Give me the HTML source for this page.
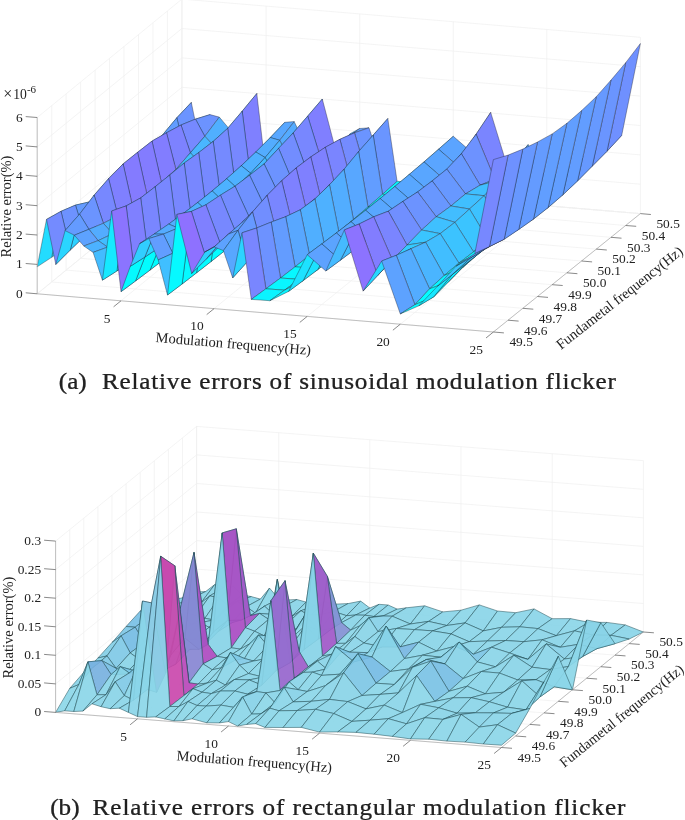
<!DOCTYPE html>
<html><head><meta charset="utf-8"><title>Relative errors</title>
<style>
html,body{margin:0;padding:0;background:#fff;}
svg{display:block}
text{font-family:"Liberation Serif",serif;fill:#222}
</style></head><body>
<svg width="685" height="820" viewBox="0 0 685 820">
<rect width="685" height="820" fill="#fff"/>
<line x1="121" y1="300.8" x2="266.1" y2="182.4" stroke="#efefef" stroke-width="0.7"/>
<line x1="266.1" y1="182.4" x2="266.1" y2="6.1" stroke="#efefef" stroke-width="0.7"/>
<line x1="214.1" y1="308.6" x2="359.7" y2="190.2" stroke="#efefef" stroke-width="0.7"/>
<line x1="359.7" y1="190.2" x2="359.7" y2="13.9" stroke="#efefef" stroke-width="0.7"/>
<line x1="307.2" y1="316.4" x2="453.3" y2="198" stroke="#efefef" stroke-width="0.7"/>
<line x1="453.3" y1="198" x2="453.3" y2="21.7" stroke="#efefef" stroke-width="0.7"/>
<line x1="400.3" y1="324.2" x2="546.8" y2="205.8" stroke="#efefef" stroke-width="0.7"/>
<line x1="546.8" y1="205.8" x2="546.8" y2="29.5" stroke="#efefef" stroke-width="0.7"/>
<line x1="493.4" y1="332" x2="640.4" y2="213.6" stroke="#efefef" stroke-width="0.7"/>
<line x1="640.4" y1="213.6" x2="640.4" y2="37.3" stroke="#efefef" stroke-width="0.7"/>
<line x1="37.2" y1="293.8" x2="493.4" y2="332" stroke="#efefef" stroke-width="0.7"/>
<line x1="37.2" y1="293.8" x2="37.2" y2="117.5" stroke="#efefef" stroke-width="0.7"/>
<line x1="51.7" y1="282" x2="508.1" y2="320.2" stroke="#efefef" stroke-width="0.7"/>
<line x1="51.7" y1="282" x2="51.7" y2="105.7" stroke="#efefef" stroke-width="0.7"/>
<line x1="66.1" y1="270.1" x2="522.8" y2="308.3" stroke="#efefef" stroke-width="0.7"/>
<line x1="66.1" y1="270.1" x2="66.1" y2="93.8" stroke="#efefef" stroke-width="0.7"/>
<line x1="80.6" y1="258.3" x2="537.5" y2="296.5" stroke="#efefef" stroke-width="0.7"/>
<line x1="80.6" y1="258.3" x2="80.6" y2="82" stroke="#efefef" stroke-width="0.7"/>
<line x1="95.1" y1="246.4" x2="552.2" y2="284.7" stroke="#efefef" stroke-width="0.7"/>
<line x1="95.1" y1="246.4" x2="95.1" y2="70.2" stroke="#efefef" stroke-width="0.7"/>
<line x1="109.5" y1="234.6" x2="566.9" y2="272.8" stroke="#efefef" stroke-width="0.7"/>
<line x1="109.5" y1="234.6" x2="109.5" y2="58.3" stroke="#efefef" stroke-width="0.7"/>
<line x1="124" y1="222.8" x2="581.6" y2="261" stroke="#efefef" stroke-width="0.7"/>
<line x1="124" y1="222.8" x2="124" y2="46.5" stroke="#efefef" stroke-width="0.7"/>
<line x1="138.5" y1="210.9" x2="596.3" y2="249.1" stroke="#efefef" stroke-width="0.7"/>
<line x1="138.5" y1="210.9" x2="138.5" y2="34.6" stroke="#efefef" stroke-width="0.7"/>
<line x1="153" y1="199.1" x2="611" y2="237.3" stroke="#efefef" stroke-width="0.7"/>
<line x1="153" y1="199.1" x2="153" y2="22.8" stroke="#efefef" stroke-width="0.7"/>
<line x1="167.4" y1="187.2" x2="625.7" y2="225.5" stroke="#efefef" stroke-width="0.7"/>
<line x1="167.4" y1="187.2" x2="167.4" y2="11" stroke="#efefef" stroke-width="0.7"/>
<line x1="181.9" y1="175.4" x2="640.4" y2="213.6" stroke="#efefef" stroke-width="0.7"/>
<line x1="181.9" y1="175.4" x2="181.9" y2="-0.9" stroke="#efefef" stroke-width="0.7"/>
<line x1="37.2" y1="293.8" x2="181.9" y2="175.4" stroke="#efefef" stroke-width="0.7"/>
<line x1="181.9" y1="175.4" x2="640.4" y2="213.6" stroke="#efefef" stroke-width="0.7"/>
<line x1="37.2" y1="264.4" x2="181.9" y2="146" stroke="#efefef" stroke-width="0.7"/>
<line x1="181.9" y1="146" x2="640.4" y2="184.2" stroke="#efefef" stroke-width="0.7"/>
<line x1="37.2" y1="235" x2="181.9" y2="116.6" stroke="#efefef" stroke-width="0.7"/>
<line x1="181.9" y1="116.6" x2="640.4" y2="154.9" stroke="#efefef" stroke-width="0.7"/>
<line x1="37.2" y1="205.7" x2="181.9" y2="87.3" stroke="#efefef" stroke-width="0.7"/>
<line x1="181.9" y1="87.3" x2="640.4" y2="125.5" stroke="#efefef" stroke-width="0.7"/>
<line x1="37.2" y1="176.3" x2="181.9" y2="57.9" stroke="#efefef" stroke-width="0.7"/>
<line x1="181.9" y1="57.9" x2="640.4" y2="96.1" stroke="#efefef" stroke-width="0.7"/>
<line x1="37.2" y1="146.9" x2="181.9" y2="28.5" stroke="#efefef" stroke-width="0.7"/>
<line x1="181.9" y1="28.5" x2="640.4" y2="66.7" stroke="#efefef" stroke-width="0.7"/>
<line x1="37.2" y1="117.5" x2="181.9" y2="-0.9" stroke="#efefef" stroke-width="0.7"/>
<line x1="181.9" y1="-0.9" x2="640.4" y2="37.3" stroke="#efefef" stroke-width="0.7"/>
<line x1="181.9" y1="175.4" x2="181.9" y2="-0.9" stroke="#efefef" stroke-width="0.7"/>
<line x1="181.9" y1="175.4" x2="640.4" y2="213.6" stroke="#efefef" stroke-width="0.7"/>
<line x1="181.9" y1="175.4" x2="37.2" y2="293.8" stroke="#efefef" stroke-width="0.7"/>
<g stroke="#20202a" stroke-width="0.38" stroke-linejoin="round"><polygon points="167.4,162.9 176.8,117.8 191.3,102.4 181.9,149" fill="#1fe0ff"/><polygon points="176.8,117.8 186.1,156.2 200.6,147.6 191.3,102.4" fill="#6b94ff"/><polygon points="186.1,156.2 195.5,119.1 210,114.6 200.6,147.6" fill="#2dd2ff"/><polygon points="195.5,119.1 204.8,136.3 219.3,117.1 210,114.6" fill="#6c93ff"/><polygon points="204.8,136.3 214.2,146.3 228.7,128.2 219.3,117.1" fill="#50afff"/><polygon points="214.2,146.3 223.5,152.7 238,134.5 228.7,128.2" fill="#41beff"/><polygon points="223.5,152.7 232.9,176.2 247.4,161.8 238,134.5" fill="#38c7ff"/><polygon points="232.9,176.2 242.2,111.2 256.8,93.5 247.4,161.8" fill="#12edff"/><polygon points="242.2,111.2 251.6,186.5 266.1,173.6 256.8,93.5" fill="#7f80ff"/><polygon points="251.6,186.5 261,162.4 275.5,147.9 266.1,173.6" fill="#03fcff"/><polygon points="261,162.4 270.3,137.5 284.8,122.3 275.5,147.9" fill="#2dd2ff"/><polygon points="270.3,137.5 279.7,140.3 294.2,121.6 284.8,122.3" fill="#58a7ff"/><polygon points="279.7,140.3 289,158.6 303.5,141.5 294.2,121.6" fill="#54abff"/><polygon points="289,158.6 298.4,189.3 312.9,176.6 303.5,141.5" fill="#37c8ff"/><polygon points="298.4,189.3 307.7,116.1 322.3,99 312.9,176.6" fill="#05faff"/><polygon points="307.7,116.1 322.7,164.7 337.2,156 322.3,99" fill="#807fff"/><polygon points="322.7,164.7 335.8,149.2 350.3,133.6 337.2,156" fill="#31ceff"/><polygon points="335.8,149.2 345.1,139.3 359.7,128.5 350.3,133.6" fill="#4db2ff"/><polygon points="345.1,139.3 354.5,132.8 369,127.8 359.7,128.5" fill="#5fa0ff"/><polygon points="354.5,132.8 363.8,165.2 378.4,156.5 369,127.8" fill="#6b94ff"/><polygon points="363.8,165.2 373.2,135.1 387.8,118.5 378.4,156.5" fill="#36c9ff"/><polygon points="373.2,135.1 382.5,194.3 397.1,181.3 387.8,118.5" fill="#6a95ff"/><polygon points="382.5,194.3 401.2,195.7 415.8,182.6 397.1,181.3" fill="#08f7ff"/><polygon points="401.2,195.7 419.9,185.9 434.5,173 415.8,182.6" fill="#09f6ff"/><polygon points="419.9,185.9 438.6,149.2 453.3,136.3 434.5,173" fill="#1ce3ff"/><polygon points="438.6,149.2 457.3,165.5 472,152.6 453.3,136.3" fill="#5ba4ff"/><polygon points="457.3,165.5 476.1,134.2 490.7,112.4 472,152.6" fill="#43bcff"/><polygon points="476.1,134.2 494.8,179.3 509.4,173.3 490.7,112.4" fill="#7a85ff"/><polygon points="494.8,179.3 513.5,163.2 528.1,144.6 509.4,173.3" fill="#31ceff"/><polygon points="513.5,163.2 532.2,195.6 546.8,179.4 528.1,144.6" fill="#4eb1ff"/><polygon points="532.2,195.6 550.9,184 565.5,169.2 546.8,179.4" fill="#1be4ff"/><polygon points="550.9,184 569.6,173.3 584.2,157.5 565.5,169.2" fill="#31ceff"/><polygon points="569.6,173.3 588.3,161.7 603,145.9 584.2,157.5" fill="#45baff"/><polygon points="588.3,161.7 607,151.3 621.7,135.4 603,145.9" fill="#5ba4ff"/><polygon points="607,151.3 625.7,62.7 640.4,43.5 621.7,135.4" fill="#6f90ff"/><polygon points="153,176.4 162.3,135.2 176.8,117.8 167.4,162.9" fill="#1ce3ff"/><polygon points="162.3,135.2 171.7,165.6 186.1,156.2 176.8,117.8" fill="#629dff"/><polygon points="171.7,165.6 181,125 195.5,119.1 186.1,156.2" fill="#31ceff"/><polygon points="181,125 190.4,152.8 204.8,136.3 195.5,119.1" fill="#7689ff"/><polygon points="190.4,152.8 199.7,163 214.2,146.3 204.8,136.3" fill="#49b6ff"/><polygon points="199.7,163 209,169.5 223.5,152.7 214.2,146.3" fill="#39c6ff"/><polygon points="209,169.5 218.4,190.1 232.9,176.2 223.5,152.7" fill="#2fd0ff"/><polygon points="218.4,190.1 227.7,128.3 242.2,111.2 232.9,176.2" fill="#0ef1ff"/><polygon points="227.7,128.3 237.1,199.2 251.6,186.5 242.2,111.2" fill="#7788ff"/><polygon points="237.1,199.2 246.4,176.3 261,162.4 251.6,186.5" fill="#02fdff"/><polygon points="246.4,176.3 255.8,152 270.3,137.5 261,162.4" fill="#29d6ff"/><polygon points="255.8,152 265.1,157.5 279.7,140.3 270.3,137.5" fill="#53acff"/><polygon points="265.1,157.5 274.5,174.6 289,158.6 279.7,140.3" fill="#4bb4ff"/><polygon points="274.5,174.6 283.8,201.8 298.4,189.3 289,158.6" fill="#30cfff"/><polygon points="283.8,201.8 293.2,132.9 307.7,116.1 298.4,189.3" fill="#04fbff"/><polygon points="293.2,132.9 308.1,174.1 322.7,164.7 307.7,116.1" fill="#7887ff"/><polygon points="308.1,174.1 321.2,163.9 335.8,149.2 322.7,164.7" fill="#36c9ff"/><polygon points="321.2,163.9 330.6,150.3 345.1,139.3 335.8,149.2" fill="#48b7ff"/><polygon points="330.6,150.3 339.9,139.3 354.5,132.8 345.1,139.3" fill="#609fff"/><polygon points="339.9,139.3 349.3,174.6 363.8,165.2 354.5,132.8" fill="#748bff"/><polygon points="349.3,174.6 358.6,151.6 373.2,135.1 363.8,165.2" fill="#3ac5ff"/><polygon points="358.6,151.6 368,207 382.5,194.3 373.2,135.1" fill="#629dff"/><polygon points="368,207 386.6,208.5 401.2,195.7 382.5,194.3" fill="#07f8ff"/><polygon points="386.6,208.5 405.3,198.5 419.9,185.9 401.2,195.7" fill="#07f8ff"/><polygon points="405.3,198.5 424,161.9 438.6,149.2 419.9,185.9" fill="#1ae5ff"/><polygon points="424,161.9 442.7,178.1 457.3,165.5 438.6,149.2" fill="#5aa5ff"/><polygon points="442.7,178.1 461.4,153.7 476.1,134.2 457.3,165.5" fill="#42bdff"/><polygon points="461.4,153.7 480.1,185.2 494.8,179.3 476.1,134.2" fill="#6d92ff"/><polygon points="480.1,185.2 498.8,180.3 513.5,163.2 494.8,179.3" fill="#3bc4ff"/><polygon points="498.8,180.3 517.5,211.9 532.2,195.6 513.5,163.2" fill="#46b9ff"/><polygon points="517.5,211.9 536.2,199.3 550.9,184 532.2,195.6" fill="#14ebff"/><polygon points="536.2,199.3 554.9,188.2 569.6,173.3 550.9,184" fill="#2bd4ff"/><polygon points="554.9,188.2 573.6,176.7 588.3,161.7 569.6,173.3" fill="#40bfff"/><polygon points="573.6,176.7 592.3,166.1 607,151.3 588.3,161.7" fill="#56a9ff"/><polygon points="592.3,166.1 611,80.1 625.7,62.7 607,151.3" fill="#6a95ff"/><polygon points="138.5,189.4 147.8,154.4 162.3,135.2 153,176.4" fill="#1ae5ff"/><polygon points="147.8,154.4 157.2,175.7 171.7,165.6 162.3,135.2" fill="#56a9ff"/><polygon points="157.2,175.7 166.5,132.8 181,125 171.7,165.6" fill="#34cbff"/><polygon points="166.5,132.8 175.9,169.4 190.4,152.8 181,125" fill="#7d82ff"/><polygon points="175.9,169.4 185.2,178.3 199.7,163 190.4,152.8" fill="#41beff"/><polygon points="185.2,178.3 194.5,184.9 209,169.5 199.7,163" fill="#33ccff"/><polygon points="194.5,184.9 203.9,203.5 218.4,190.1 209,169.5" fill="#29d6ff"/><polygon points="203.9,203.5 213.2,141.4 227.7,128.3 218.4,190.1" fill="#0cf3ff"/><polygon points="213.2,141.4 222.6,211.6 237.1,199.2 227.7,128.3" fill="#758aff"/><polygon points="222.6,211.6 231.9,189.6 246.4,176.3 237.1,199.2" fill="#01feff"/><polygon points="231.9,189.6 241.3,165.7 255.8,152 246.4,176.3" fill="#27d8ff"/><polygon points="241.3,165.7 250.6,173.2 265.1,157.5 255.8,152" fill="#50afff"/><polygon points="250.6,173.2 259.9,189.3 274.5,174.6 265.1,157.5" fill="#45baff"/><polygon points="259.9,189.3 269.3,214.1 283.8,201.8 274.5,174.6" fill="#2bd4ff"/><polygon points="269.3,214.1 278.6,148.3 293.2,132.9 283.8,201.8" fill="#03fcff"/><polygon points="278.6,148.3 293.6,184.1 308.1,174.1 293.2,132.9" fill="#728dff"/><polygon points="293.6,184.1 306.7,177.8 321.2,163.9 308.1,174.1" fill="#38c7ff"/><polygon points="306.7,177.8 316,161.6 330.6,150.3 321.2,163.9" fill="#45baff"/><polygon points="316,161.6 325.3,147.3 339.9,139.3 330.6,150.3" fill="#619eff"/><polygon points="325.3,147.3 334.7,184.6 349.3,174.6 339.9,139.3" fill="#7a85ff"/><polygon points="334.7,184.6 344,169.3 358.6,151.6 349.3,174.6" fill="#3dc2ff"/><polygon points="344,169.3 353.4,219.5 368,207 358.6,151.6" fill="#58a7ff"/><polygon points="353.4,219.5 372.1,221 386.6,208.5 368,207" fill="#06f9ff"/><polygon points="372.1,221 390.7,210.9 405.3,198.5 386.6,208.5" fill="#06f9ff"/><polygon points="390.7,210.9 409.4,174.3 424,161.9 405.3,198.5" fill="#19e6ff"/><polygon points="409.4,174.3 428.1,190.6 442.7,178.1 424,161.9" fill="#59a6ff"/><polygon points="428.1,190.6 446.8,169.1 461.4,153.7 442.7,178.1" fill="#41beff"/><polygon points="446.8,169.1 465.5,193.9 480.1,185.2 461.4,153.7" fill="#6798ff"/><polygon points="465.5,193.9 484.2,195.7 498.8,180.3 480.1,185.2" fill="#40bfff"/><polygon points="484.2,195.7 502.9,226.6 517.5,211.9 498.8,180.3" fill="#40bfff"/><polygon points="502.9,226.6 521.5,214.1 536.2,199.3 517.5,211.9" fill="#0ff0ff"/><polygon points="521.5,214.1 540.2,202.2 554.9,188.2 536.2,199.3" fill="#26d9ff"/><polygon points="540.2,202.2 558.9,190.8 573.6,176.7 554.9,188.2" fill="#3dc2ff"/><polygon points="558.9,190.8 577.6,180.9 592.3,166.1 573.6,176.7" fill="#52adff"/><polygon points="577.6,180.9 596.3,96.7 611,80.1 592.3,166.1" fill="#6699ff"/><polygon points="124,202 133.4,170.7 147.8,154.4 138.5,189.4" fill="#19e6ff"/><polygon points="133.4,170.7 142.7,186.5 157.2,175.7 147.8,154.4" fill="#4eb1ff"/><polygon points="142.7,186.5 152,141.1 166.5,132.8 157.2,175.7" fill="#35caff"/><polygon points="152,141.1 161.4,182.4 175.9,169.4 166.5,132.8" fill="#827dff"/><polygon points="161.4,182.4 170.7,192.2 185.2,178.3 175.9,169.4" fill="#3fc0ff"/><polygon points="170.7,192.2 180,198.8 194.5,184.9 185.2,178.3" fill="#30cfff"/><polygon points="180,198.8 189.4,216.2 203.9,203.5 194.5,184.9" fill="#26d9ff"/><polygon points="189.4,216.2 198.7,152.6 213.2,141.4 203.9,203.5" fill="#0af5ff"/><polygon points="198.7,152.6 208.1,223.8 222.6,211.6 213.2,141.4" fill="#7689ff"/><polygon points="208.1,223.8 217.4,202.4 231.9,189.6 222.6,211.6" fill="#00ffff"/><polygon points="217.4,202.4 226.7,178.7 241.3,165.7 231.9,189.6" fill="#25daff"/><polygon points="226.7,178.7 236.1,187.3 250.6,173.2 241.3,165.7" fill="#4eb1ff"/><polygon points="236.1,187.3 245.4,202.9 259.9,189.3 250.6,173.2" fill="#41beff"/><polygon points="245.4,202.9 254.8,226.2 269.3,214.1 259.9,189.3" fill="#28d7ff"/><polygon points="254.8,226.2 264.1,163.9 278.6,148.3 269.3,214.1" fill="#03fcff"/><polygon points="264.1,163.9 279,194.9 293.6,184.1 278.6,148.3" fill="#6c93ff"/><polygon points="279,194.9 292.1,190.8 306.7,177.8 293.6,184.1" fill="#3ac5ff"/><polygon points="292.1,190.8 301.4,173.1 316,161.6 306.7,177.8" fill="#43bcff"/><polygon points="301.4,173.1 310.8,156.9 325.3,147.3 316,161.6" fill="#629dff"/><polygon points="310.8,156.9 320.1,195.4 334.7,184.6 325.3,147.3" fill="#7e81ff"/><polygon points="320.1,195.4 329.5,184.7 344,169.3 334.7,184.6" fill="#3fc0ff"/><polygon points="329.5,184.7 338.8,231.8 353.4,219.5 344,169.3" fill="#52adff"/><polygon points="338.8,231.8 357.5,233.3 372.1,221 353.4,219.5" fill="#05faff"/><polygon points="357.5,233.3 376.2,223.1 390.7,210.9 372.1,221" fill="#05faff"/><polygon points="376.2,223.1 394.8,186.5 409.4,174.3 390.7,210.9" fill="#19e6ff"/><polygon points="394.8,186.5 413.5,202.8 428.1,190.6 409.4,174.3" fill="#58a7ff"/><polygon points="413.5,202.8 432.2,180.9 446.8,169.1 428.1,190.6" fill="#40bfff"/><polygon points="432.2,180.9 450.9,206 465.5,193.9 446.8,169.1" fill="#6798ff"/><polygon points="450.9,206 469.5,209 484.2,195.7 465.5,193.9" fill="#40bfff"/><polygon points="469.5,209 488.2,240 502.9,226.6 484.2,195.7" fill="#3dc2ff"/><polygon points="488.2,240 506.9,227.7 521.5,214.1 502.9,226.6" fill="#0cf3ff"/><polygon points="506.9,227.7 525.6,215.3 540.2,202.2 521.5,214.1" fill="#23dcff"/><polygon points="525.6,215.3 544.2,203.9 558.9,190.8 540.2,202.2" fill="#3bc4ff"/><polygon points="544.2,203.9 562.9,194.8 577.6,180.9 558.9,190.8" fill="#50afff"/><polygon points="562.9,194.8 581.6,110.6 596.3,96.7 577.6,180.9" fill="#629dff"/><polygon points="109.5,214 118.9,184 133.4,170.7 124,202" fill="#19e6ff"/><polygon points="118.9,184 128.2,198 142.7,186.5 133.4,170.7" fill="#4cb3ff"/><polygon points="128.2,198 137.6,152.3 152,141.1 142.7,186.5" fill="#36c9ff"/><polygon points="137.6,152.3 146.9,194.2 161.4,182.4 152,141.1" fill="#837cff"/><polygon points="146.9,194.2 156.2,204.7 170.7,192.2 161.4,182.4" fill="#3fc0ff"/><polygon points="156.2,204.7 165.6,211.4 180,198.8 170.7,192.2" fill="#2fd0ff"/><polygon points="165.6,211.4 174.9,228.3 189.4,216.2 180,198.8" fill="#25daff"/><polygon points="174.9,228.3 184.2,163 198.7,152.6 189.4,216.2" fill="#0af5ff"/><polygon points="184.2,163 193.6,235.7 208.1,223.8 198.7,152.6" fill="#7887ff"/><polygon points="193.6,235.7 202.9,214.5 217.4,202.4 208.1,223.8" fill="#00ffff"/><polygon points="202.9,214.5 212.2,190.9 226.7,178.7 217.4,202.4" fill="#25daff"/><polygon points="212.2,190.9 221.6,199.9 236.1,187.3 226.7,178.7" fill="#4db2ff"/><polygon points="221.6,199.9 230.9,215.4 245.4,202.9 236.1,187.3" fill="#40bfff"/><polygon points="230.9,215.4 240.2,238.2 254.8,226.2 245.4,202.9" fill="#27d8ff"/><polygon points="240.2,238.2 249.6,175.2 264.1,163.9 254.8,226.2" fill="#02fdff"/><polygon points="249.6,175.2 264.5,206.4 279,194.9 264.1,163.9" fill="#6d92ff"/><polygon points="264.5,206.4 277.6,203.1 292.1,190.8 279,194.9" fill="#3bc4ff"/><polygon points="277.6,203.1 286.9,184.8 301.4,173.1 292.1,190.8" fill="#42bdff"/><polygon points="286.9,184.8 296.2,167.9 310.8,156.9 301.4,173.1" fill="#629dff"/><polygon points="296.2,167.9 305.6,206.9 320.1,195.4 310.8,156.9" fill="#7f80ff"/><polygon points="305.6,206.9 314.9,198.9 329.5,184.7 320.1,195.4" fill="#40bfff"/><polygon points="314.9,198.9 324.2,243.7 338.8,231.8 329.5,184.7" fill="#4eb1ff"/><polygon points="324.2,243.7 342.9,245.3 357.5,233.3 338.8,231.8" fill="#05faff"/><polygon points="342.9,245.3 361.6,235.1 376.2,223.1 357.5,233.3" fill="#05faff"/><polygon points="361.6,235.1 380.2,198.5 394.8,186.5 376.2,223.1" fill="#19e6ff"/><polygon points="380.2,198.5 398.9,214.7 413.5,202.8 394.8,186.5" fill="#58a7ff"/><polygon points="398.9,214.7 417.6,191.9 432.2,180.9 413.5,202.8" fill="#40bfff"/><polygon points="417.6,191.9 436.2,216.7 450.9,206 432.2,180.9" fill="#6897ff"/><polygon points="436.2,216.7 454.9,222.3 469.5,209 450.9,206" fill="#42bdff"/><polygon points="454.9,222.3 473.6,251.8 488.2,240 469.5,209" fill="#3bc4ff"/><polygon points="473.6,251.8 492.2,240.1 506.9,227.7 488.2,240" fill="#0cf3ff"/><polygon points="492.2,240.1 510.9,227.6 525.6,215.3 506.9,227.7" fill="#22ddff"/><polygon points="510.9,227.6 529.6,216.2 544.2,203.9 525.6,215.3" fill="#3ac5ff"/><polygon points="529.6,216.2 548.2,207.5 562.9,194.8 544.2,203.9" fill="#4fb0ff"/><polygon points="548.2,207.5 566.9,123.3 581.6,110.6 562.9,194.8" fill="#619eff"/><polygon points="95.1,225.6 104.4,194.3 118.9,184 109.5,214" fill="#19e6ff"/><polygon points="104.4,194.3 113.7,210.1 128.2,198 118.9,184" fill="#4eb1ff"/><polygon points="113.7,210.1 123.1,163.9 137.6,152.3 128.2,198" fill="#35caff"/><polygon points="123.1,163.9 132.4,205.5 146.9,194.2 137.6,152.3" fill="#847bff"/><polygon points="132.4,205.5 141.7,215.8 156.2,204.7 146.9,194.2" fill="#40bfff"/><polygon points="141.7,215.8 151.1,222.5 165.6,211.4 156.2,204.7" fill="#30cfff"/><polygon points="151.1,222.5 160.4,239.9 174.9,228.3 165.6,211.4" fill="#26d9ff"/><polygon points="160.4,239.9 169.7,175.1 184.2,163 174.9,228.3" fill="#0af5ff"/><polygon points="169.7,175.1 179,247.5 193.6,235.7 184.2,163" fill="#7887ff"/><polygon points="179,247.5 188.4,226 202.9,214.5 193.6,235.7" fill="#00ffff"/><polygon points="188.4,226 197.7,202.5 212.2,190.9 202.9,214.5" fill="#25daff"/><polygon points="197.7,202.5 207,210.9 221.6,199.9 212.2,190.9" fill="#4eb1ff"/><polygon points="207,210.9 216.4,226.6 230.9,215.4 221.6,199.9" fill="#41beff"/><polygon points="216.4,226.6 225.7,249.9 240.2,238.2 230.9,215.4" fill="#28d7ff"/><polygon points="225.7,249.9 235,186.2 249.6,175.2 240.2,238.2" fill="#03fcff"/><polygon points="235,186.2 249.9,218.6 264.5,206.4 249.6,175.2" fill="#6e91ff"/><polygon points="249.9,218.6 263,214.5 277.6,203.1 264.5,206.4" fill="#3ac5ff"/><polygon points="263,214.5 272.3,196.7 286.9,184.8 277.6,203.1" fill="#43bcff"/><polygon points="272.3,196.7 281.7,180.7 296.2,167.9 286.9,184.8" fill="#629dff"/><polygon points="281.7,180.7 291,219.2 305.6,206.9 296.2,167.9" fill="#7e81ff"/><polygon points="291,219.2 300.3,209.8 314.9,198.9 305.6,206.9" fill="#3fc0ff"/><polygon points="300.3,209.8 309.6,255.4 324.2,243.7 314.9,198.9" fill="#50afff"/><polygon points="309.6,255.4 328.3,257 342.9,245.3 324.2,243.7" fill="#05faff"/><polygon points="328.3,257 347,246.8 361.6,235.1 342.9,245.3" fill="#05faff"/><polygon points="347,246.8 365.6,210.2 380.2,198.5 361.6,235.1" fill="#19e6ff"/><polygon points="365.6,210.2 384.3,226.4 398.9,214.7 380.2,198.5" fill="#58a7ff"/><polygon points="384.3,226.4 402.9,201.4 417.6,191.9 398.9,214.7" fill="#40bfff"/><polygon points="402.9,201.4 421.6,230 436.2,216.7 417.6,191.9" fill="#6c93ff"/><polygon points="421.6,230 440.2,233.6 454.9,222.3 436.2,216.7" fill="#3fc0ff"/><polygon points="440.2,233.6 458.9,263.1 473.6,251.8 454.9,222.3" fill="#3cc3ff"/><polygon points="458.9,263.1 477.6,253.2 492.2,240.1 473.6,251.8" fill="#0df2ff"/><polygon points="477.6,253.2 496.2,239.4 510.9,227.6 492.2,240.1" fill="#20dfff"/><polygon points="496.2,239.4 514.9,227.7 529.6,216.2 510.9,227.6" fill="#3ac5ff"/><polygon points="514.9,227.7 533.5,219.1 548.2,207.5 529.6,216.2" fill="#50afff"/><polygon points="533.5,219.1 552.2,133.9 566.9,123.3 548.2,207.5" fill="#619eff"/><polygon points="80.6,236.7 89.9,201.8 104.4,194.3 95.1,225.6" fill="#1ae5ff"/><polygon points="89.9,201.8 99.3,222.8 113.7,210.1 104.4,194.3" fill="#56a9ff"/><polygon points="99.3,222.8 108.6,178.6 123.1,163.9 113.7,210.1" fill="#34cbff"/><polygon points="108.6,178.6 117.9,215.9 132.4,205.5 123.1,163.9" fill="#7f80ff"/><polygon points="117.9,215.9 127.2,225.5 141.7,215.8 132.4,205.5" fill="#42bdff"/><polygon points="127.2,225.5 136.6,232.1 151.1,222.5 141.7,215.8" fill="#33ccff"/><polygon points="136.6,232.1 145.9,250.8 160.4,239.9 151.1,222.5" fill="#2ad5ff"/><polygon points="145.9,250.8 155.2,186.7 169.7,175.1 160.4,239.9" fill="#0cf3ff"/><polygon points="155.2,186.7 164.5,258.9 179,247.5 169.7,175.1" fill="#7887ff"/><polygon points="164.5,258.9 173.9,237 188.4,226 179,247.5" fill="#01feff"/><polygon points="173.9,237 183.2,213.5 197.7,202.5 188.4,226" fill="#27d8ff"/><polygon points="183.2,213.5 192.5,220.3 207,210.9 197.7,202.5" fill="#4fb0ff"/><polygon points="192.5,220.3 201.8,236.7 216.4,226.6 207,210.9" fill="#45baff"/><polygon points="201.8,236.7 211.1,261.5 225.7,249.9 216.4,226.6" fill="#2bd4ff"/><polygon points="211.1,261.5 220.5,195.1 235,186.2 225.7,249.9" fill="#03fcff"/><polygon points="220.5,195.1 235.4,231.4 249.9,218.6 235,186.2" fill="#738cff"/><polygon points="235.4,231.4 248.4,225.1 263,214.5 249.9,218.6" fill="#39c6ff"/><polygon points="248.4,225.1 257.8,208.9 272.3,196.7 263,214.5" fill="#45baff"/><polygon points="257.8,208.9 267.1,195.4 281.7,180.7 272.3,196.7" fill="#619eff"/><polygon points="267.1,195.4 276.4,232.5 291,219.2 281.7,180.7" fill="#7986ff"/><polygon points="276.4,232.5 285.7,216.7 300.3,209.8 291,219.2" fill="#3dc2ff"/><polygon points="285.7,216.7 295.1,266.8 309.6,255.4 300.3,209.8" fill="#58a7ff"/><polygon points="295.1,266.8 313.7,268.4 328.3,257 309.6,255.4" fill="#06f9ff"/><polygon points="313.7,268.4 332.4,258.3 347,246.8 328.3,257" fill="#06f9ff"/><polygon points="332.4,258.3 351,221.7 365.6,210.2 347,246.8" fill="#19e6ff"/><polygon points="351,221.7 369.7,237.9 384.3,226.4 365.6,210.2" fill="#59a6ff"/><polygon points="369.7,237.9 388.3,211.2 402.9,201.4 384.3,226.4" fill="#41beff"/><polygon points="388.3,211.2 407,245 421.6,230 402.9,201.4" fill="#708fff"/><polygon points="407,245 425.6,242.2 440.2,233.6 421.6,230" fill="#3ac5ff"/><polygon points="425.6,242.2 444.2,275.5 458.9,263.1 440.2,233.6" fill="#41beff"/><polygon points="444.2,275.5 462.9,267.3 477.6,253.2 458.9,263.1" fill="#0cf3ff"/><polygon points="462.9,267.3 481.5,251.2 496.2,239.4 477.6,253.2" fill="#1ce3ff"/><polygon points="481.5,251.2 500.2,238.4 514.9,227.7 496.2,239.4" fill="#3ac5ff"/><polygon points="500.2,238.4 518.8,229.4 533.5,219.1 514.9,227.7" fill="#52adff"/><polygon points="518.8,229.4 537.5,142 552.2,133.9 533.5,219.1" fill="#649bff"/><polygon points="66.1,247.2 75.5,205.1 89.9,201.8 80.6,236.7" fill="#1ce3ff"/><polygon points="75.5,205.1 84.8,236.1 99.3,222.8 89.9,201.8" fill="#649bff"/><polygon points="84.8,236.1 94.1,195.2 108.6,178.6 99.3,222.8" fill="#32cdff"/><polygon points="94.1,195.2 103.4,223.3 117.9,215.9 108.6,178.6" fill="#7788ff"/><polygon points="103.4,223.3 112.7,233.8 127.2,225.5 117.9,215.9" fill="#4ab5ff"/><polygon points="112.7,233.8 122.1,240.3 136.6,232.1 127.2,225.5" fill="#39c6ff"/><polygon points="122.1,240.3 131.4,261.2 145.9,250.8 136.6,232.1" fill="#30cfff"/><polygon points="131.4,261.2 140.7,197.9 155.2,186.7 145.9,250.8" fill="#0ef1ff"/><polygon points="140.7,197.9 150,270.1 164.5,258.9 155.2,186.7" fill="#7986ff"/><polygon points="150,270.1 159.3,247.4 173.9,237 164.5,258.9" fill="#02fdff"/><polygon points="159.3,247.4 168.7,224.1 183.2,213.5 173.9,237" fill="#29d6ff"/><polygon points="168.7,224.1 178,228 192.5,220.3 183.2,213.5" fill="#51aeff"/><polygon points="178,228 187.3,245.6 201.8,236.7 192.5,220.3" fill="#4cb3ff"/><polygon points="187.3,245.6 196.6,272.8 211.1,261.5 201.8,236.7" fill="#30cfff"/><polygon points="196.6,272.8 205.9,204.8 220.5,195.1 211.1,261.5" fill="#04fbff"/><polygon points="205.9,204.8 220.8,244.8 235.4,231.4 220.5,195.1" fill="#7788ff"/><polygon points="220.8,244.8 233.9,234.9 248.4,225.1 235.4,231.4" fill="#36c9ff"/><polygon points="233.9,234.9 243.2,221.4 257.8,208.9 248.4,225.1" fill="#48b7ff"/><polygon points="243.2,221.4 252.5,211.9 267.1,195.4 257.8,208.9" fill="#609fff"/><polygon points="252.5,211.9 261.8,246.7 276.4,232.5 267.1,195.4" fill="#718eff"/><polygon points="261.8,246.7 271.2,222.1 285.7,216.7 276.4,232.5" fill="#39c6ff"/><polygon points="271.2,222.1 280.5,278 295.1,266.8 285.7,216.7" fill="#639cff"/><polygon points="280.5,278 299.1,279.4 313.7,268.4 295.1,266.8" fill="#07f8ff"/><polygon points="299.1,279.4 317.8,269.6 332.4,258.3 313.7,268.4" fill="#07f8ff"/><polygon points="317.8,269.6 336.4,232.9 351,221.7 332.4,258.3" fill="#1ae5ff"/><polygon points="336.4,232.9 355,249.2 369.7,237.9 351,221.7" fill="#5aa5ff"/><polygon points="355,249.2 373.7,216.8 388.3,211.2 369.7,237.9" fill="#42bdff"/><polygon points="373.7,216.8 392.3,259.8 407,245 388.3,211.2" fill="#7a85ff"/><polygon points="392.3,259.8 411,248.7 425.6,242.2 407,245" fill="#35caff"/><polygon points="411,248.7 429.6,288.8 444.2,275.5 425.6,242.2" fill="#4ab5ff"/><polygon points="429.6,288.8 448.2,282.1 462.9,267.3 444.2,275.5" fill="#0af5ff"/><polygon points="448.2,282.1 466.9,262.9 481.5,251.2 462.9,267.3" fill="#18e7ff"/><polygon points="466.9,262.9 485.5,248.4 500.2,238.4 481.5,251.2" fill="#3ac5ff"/><polygon points="485.5,248.4 504.2,239.2 518.8,229.4 500.2,238.4" fill="#55aaff"/><polygon points="504.2,239.2 522.8,149.1 537.5,142 518.8,229.4" fill="#6798ff"/><polygon points="51.7,257.3 61,211.3 75.5,205.1 66.1,247.2" fill="#1fe0ff"/><polygon points="61,211.3 70.3,250 84.8,236.1 75.5,205.1" fill="#6d92ff"/><polygon points="70.3,250 79.6,214.1 94.1,195.2 84.8,236.1" fill="#2ed1ff"/><polygon points="79.6,214.1 88.9,229.3 103.4,223.3 94.1,195.2" fill="#6b94ff"/><polygon points="88.9,229.3 98.2,240.6 112.7,233.8 103.4,223.3" fill="#53acff"/><polygon points="98.2,240.6 107.6,247.1 122.1,240.3 112.7,233.8" fill="#42bdff"/><polygon points="107.6,247.1 116.9,271 131.4,261.2 122.1,240.3" fill="#38c7ff"/><polygon points="116.9,271 126.2,205.9 140.7,197.9 131.4,261.2" fill="#12edff"/><polygon points="126.2,205.9 135.5,281 150,270.1 140.7,197.9" fill="#7f80ff"/><polygon points="135.5,281 144.8,257.1 159.3,247.4 150,270.1" fill="#03fcff"/><polygon points="144.8,257.1 154.1,234.1 168.7,224.1 159.3,247.4" fill="#2dd2ff"/><polygon points="154.1,234.1 163.4,234.1 178,228 168.7,224.1" fill="#54abff"/><polygon points="163.4,234.1 172.8,253.3 187.3,245.6 178,228" fill="#56a9ff"/><polygon points="172.8,253.3 182.1,284 196.6,272.8 187.3,245.6" fill="#37c8ff"/><polygon points="182.1,284 191.4,211.4 205.9,204.8 196.6,272.8" fill="#05faff"/><polygon points="191.4,211.4 206.3,258.9 220.8,244.8 205.9,204.8" fill="#7f80ff"/><polygon points="206.3,258.9 219.3,243.9 233.9,234.9 220.8,244.8" fill="#32cdff"/><polygon points="219.3,243.9 228.6,234 243.2,221.4 233.9,234.9" fill="#4db2ff"/><polygon points="228.6,234 238,230.3 252.5,211.9 243.2,221.4" fill="#5fa0ff"/><polygon points="238,230.3 247.3,261.8 261.8,246.7 252.5,211.9" fill="#6699ff"/><polygon points="247.3,261.8 256.6,228 271.2,222.1 261.8,246.7" fill="#33ccff"/><polygon points="256.6,228 265.9,288.8 280.5,278 271.2,222.1" fill="#6d92ff"/><polygon points="265.9,288.8 284.5,290.2 299.1,279.4 280.5,278" fill="#09f6ff"/><polygon points="284.5,290.2 303.2,280.6 317.8,269.6 299.1,279.4" fill="#09f6ff"/><polygon points="303.2,280.6 321.8,243.9 336.4,232.9 317.8,269.6" fill="#1ce3ff"/><polygon points="321.8,243.9 340.4,260.2 355,249.2 336.4,232.9" fill="#5ba4ff"/><polygon points="340.4,260.2 359.1,224 373.7,216.8 355,249.2" fill="#43bcff"/><polygon points="359.1,224 377.7,275.5 392.3,259.8 373.7,216.8" fill="#827dff"/><polygon points="377.7,275.5 396.3,255.3 411,248.7 392.3,259.8" fill="#2fd0ff"/><polygon points="396.3,255.3 414.9,304.7 429.6,288.8 411,248.7" fill="#53acff"/><polygon points="414.9,304.7 433.6,296.9 448.2,282.1 429.6,288.8" fill="#03fcff"/><polygon points="433.6,296.9 452.2,274.6 466.9,262.9 448.2,282.1" fill="#13ecff"/><polygon points="452.2,274.6 470.8,257.6 485.5,248.4 466.9,262.9" fill="#3ac5ff"/><polygon points="470.8,257.6 489.5,246.6 504.2,239.2 485.5,248.4" fill="#59a6ff"/><polygon points="489.5,246.6 508.1,155.1 522.8,149.1 504.2,239.2" fill="#6e91ff"/><polygon points="37.2,266.8 46.5,219.4 61,211.3 51.7,257.3" fill="#23dcff"/><polygon points="46.5,219.4 55.8,264.5 70.3,250 61,211.3" fill="#748bff"/><polygon points="55.8,264.5 65.1,230.6 79.6,214.1 70.3,250" fill="#2ad5ff"/><polygon points="65.1,230.6 74.4,235.2 88.9,229.3 79.6,214.1" fill="#649bff"/><polygon points="74.4,235.2 83.8,246 98.2,240.6 88.9,229.3" fill="#5da2ff"/><polygon points="83.8,246 93.1,252.4 107.6,247.1 98.2,240.6" fill="#4cb2ff"/><polygon points="93.1,252.4 102.4,280.2 116.9,271 107.6,247.1" fill="#43bcff"/><polygon points="102.4,280.2 111.7,211 126.2,205.9 116.9,271" fill="#16e9ff"/><polygon points="111.7,211 121,291.7 135.5,281 126.2,205.9" fill="#8b74ff"/><polygon points="121,291.7 130.3,266.3 144.8,257.1 135.5,281" fill="#05faff"/><polygon points="130.3,266.3 139.6,243.6 154.1,234.1 144.8,257.1" fill="#31ceff"/><polygon points="139.6,243.6 148.9,238.5 163.4,234.1 154.1,234.1" fill="#58a7ff"/><polygon points="148.9,238.5 158.2,259.9 172.8,253.3 163.4,234.1" fill="#629dff"/><polygon points="158.2,259.9 167.5,295 182.1,284 172.8,253.3" fill="#40bfff"/><polygon points="167.5,295 176.9,214.4 191.4,211.4 182.1,284" fill="#06f9ff"/><polygon points="176.9,214.4 191.7,273.5 206.3,258.9 191.4,211.4" fill="#8e71ff"/><polygon points="191.7,273.5 204.8,252 219.3,243.9 206.3,258.9" fill="#2ed1ff"/><polygon points="204.8,252 214.1,246.9 228.6,234 219.3,243.9" fill="#53acff"/><polygon points="214.1,246.9 223.4,250.6 238,230.3 228.6,234" fill="#5da2ff"/><polygon points="223.4,250.6 232.7,277.9 247.3,261.8 238,230.3" fill="#58a7ff"/><polygon points="232.7,277.9 242,232.8 256.6,228 247.3,261.8" fill="#2cd3ff"/><polygon points="242,232.8 251.3,299.4 265.9,288.8 256.6,228" fill="#7986ff"/><polygon points="251.3,299.4 269.9,300.7 284.5,290.2 265.9,288.8" fill="#0bf4ff"/><polygon points="269.9,300.7 288.6,291.4 303.2,280.6 284.5,290.2" fill="#0bf4ff"/><polygon points="288.6,291.4 307.2,254.7 321.8,243.9 303.2,280.6" fill="#1de2ff"/><polygon points="307.2,254.7 325.8,271 340.4,260.2 321.8,243.9" fill="#5da2ff"/><polygon points="325.8,271 344.4,229.9 359.1,224 340.4,260.2" fill="#45baff"/><polygon points="344.4,229.9 363.1,291.1 377.7,275.5 359.1,224" fill="#8c73ff"/><polygon points="363.1,291.1 381.7,261 396.3,255.3 377.7,275.5" fill="#28d7ff"/><polygon points="381.7,261 400.3,313.9 414.9,304.7 396.3,255.3" fill="#5da2ff"/><polygon points="400.3,313.9 418.9,305.8 433.6,296.9 414.9,304.7" fill="#07f8ff"/><polygon points="418.9,305.8 437.5,286.2 452.2,274.6 433.6,296.9" fill="#18e7ff"/><polygon points="437.5,286.2 456.2,266 470.8,257.6 452.2,274.6" fill="#3bc4ff"/><polygon points="456.2,266 474.8,253.5 489.5,246.6 470.8,257.6" fill="#5fa0ff"/><polygon points="474.8,253.5 493.4,159.6 508.1,155.1 489.5,246.6" fill="#7788ff"/></g>
<line x1="37.2" y1="293.8" x2="37.2" y2="117.5" stroke="#a8a8a8" stroke-width="0.7"/>
<line x1="37.2" y1="293.8" x2="493.4" y2="332" stroke="#a8a8a8" stroke-width="0.7"/>
<line x1="493.4" y1="332" x2="640.4" y2="213.6" stroke="#a8a8a8" stroke-width="0.7"/>
<line x1="121" y1="300.8" x2="113.6" y2="306.8" stroke="#4a4a4a" stroke-width="0.65"/>
<line x1="214.1" y1="308.6" x2="206.7" y2="314.6" stroke="#4a4a4a" stroke-width="0.65"/>
<line x1="307.2" y1="316.4" x2="299.8" y2="322.4" stroke="#4a4a4a" stroke-width="0.65"/>
<line x1="400.3" y1="324.2" x2="392.9" y2="330.2" stroke="#4a4a4a" stroke-width="0.65"/>
<line x1="493.4" y1="332" x2="486" y2="338" stroke="#4a4a4a" stroke-width="0.65"/>
<line x1="493.4" y1="332" x2="503.9" y2="332.9" stroke="#4a4a4a" stroke-width="0.65"/>
<line x1="508.1" y1="320.2" x2="518.6" y2="321.1" stroke="#4a4a4a" stroke-width="0.65"/>
<line x1="522.8" y1="308.3" x2="533.3" y2="309.2" stroke="#4a4a4a" stroke-width="0.65"/>
<line x1="537.5" y1="296.5" x2="548" y2="297.4" stroke="#4a4a4a" stroke-width="0.65"/>
<line x1="552.2" y1="284.7" x2="562.7" y2="285.5" stroke="#4a4a4a" stroke-width="0.65"/>
<line x1="566.9" y1="272.8" x2="577.4" y2="273.7" stroke="#4a4a4a" stroke-width="0.65"/>
<line x1="581.6" y1="261" x2="592.1" y2="261.9" stroke="#4a4a4a" stroke-width="0.65"/>
<line x1="596.3" y1="249.1" x2="606.8" y2="250" stroke="#4a4a4a" stroke-width="0.65"/>
<line x1="611" y1="237.3" x2="621.5" y2="238.2" stroke="#4a4a4a" stroke-width="0.65"/>
<line x1="625.7" y1="225.5" x2="636.2" y2="226.3" stroke="#4a4a4a" stroke-width="0.65"/>
<line x1="640.4" y1="213.6" x2="650.9" y2="214.5" stroke="#4a4a4a" stroke-width="0.65"/>
<line x1="37.2" y1="293.8" x2="25.7" y2="292.8" stroke="#4a4a4a" stroke-width="0.65"/>
<line x1="37.2" y1="264.4" x2="25.7" y2="263.5" stroke="#4a4a4a" stroke-width="0.65"/>
<line x1="37.2" y1="235" x2="25.7" y2="234.1" stroke="#4a4a4a" stroke-width="0.65"/>
<line x1="37.2" y1="205.7" x2="25.7" y2="204.7" stroke="#4a4a4a" stroke-width="0.65"/>
<line x1="37.2" y1="176.3" x2="25.7" y2="175.3" stroke="#4a4a4a" stroke-width="0.65"/>
<line x1="37.2" y1="146.9" x2="25.7" y2="145.9" stroke="#4a4a4a" stroke-width="0.65"/>
<line x1="37.2" y1="117.5" x2="25.7" y2="116.6" stroke="#4a4a4a" stroke-width="0.65"/>
<line x1="137.5" y1="718.8" x2="278.7" y2="604" stroke="#efefef" stroke-width="0.7"/>
<line x1="278.7" y1="604" x2="278.7" y2="432.7" stroke="#efefef" stroke-width="0.7"/>
<line x1="228.5" y1="726" x2="369.8" y2="611" stroke="#efefef" stroke-width="0.7"/>
<line x1="369.8" y1="611" x2="369.8" y2="439.7" stroke="#efefef" stroke-width="0.7"/>
<line x1="319.5" y1="733.2" x2="461" y2="618" stroke="#efefef" stroke-width="0.7"/>
<line x1="461" y1="618" x2="461" y2="446.7" stroke="#efefef" stroke-width="0.7"/>
<line x1="410.5" y1="740.3" x2="552.2" y2="625" stroke="#efefef" stroke-width="0.7"/>
<line x1="552.2" y1="625" x2="552.2" y2="453.7" stroke="#efefef" stroke-width="0.7"/>
<line x1="501.5" y1="747.5" x2="643.4" y2="632" stroke="#efefef" stroke-width="0.7"/>
<line x1="643.4" y1="632" x2="643.4" y2="460.7" stroke="#efefef" stroke-width="0.7"/>
<line x1="55.6" y1="712.4" x2="501.5" y2="747.5" stroke="#efefef" stroke-width="0.7"/>
<line x1="55.6" y1="712.4" x2="55.6" y2="541.1" stroke="#efefef" stroke-width="0.7"/>
<line x1="69.7" y1="700.9" x2="515.7" y2="736" stroke="#efefef" stroke-width="0.7"/>
<line x1="69.7" y1="700.9" x2="69.7" y2="529.6" stroke="#efefef" stroke-width="0.7"/>
<line x1="83.8" y1="689.5" x2="529.9" y2="724.4" stroke="#efefef" stroke-width="0.7"/>
<line x1="83.8" y1="689.5" x2="83.8" y2="518.2" stroke="#efefef" stroke-width="0.7"/>
<line x1="97.9" y1="678" x2="544.1" y2="712.9" stroke="#efefef" stroke-width="0.7"/>
<line x1="97.9" y1="678" x2="97.9" y2="506.7" stroke="#efefef" stroke-width="0.7"/>
<line x1="112" y1="666.5" x2="558.3" y2="701.3" stroke="#efefef" stroke-width="0.7"/>
<line x1="112" y1="666.5" x2="112" y2="495.2" stroke="#efefef" stroke-width="0.7"/>
<line x1="126.1" y1="655" x2="572.5" y2="689.8" stroke="#efefef" stroke-width="0.7"/>
<line x1="126.1" y1="655" x2="126.1" y2="483.8" stroke="#efefef" stroke-width="0.7"/>
<line x1="140.2" y1="643.6" x2="586.6" y2="678.2" stroke="#efefef" stroke-width="0.7"/>
<line x1="140.2" y1="643.6" x2="140.2" y2="472.3" stroke="#efefef" stroke-width="0.7"/>
<line x1="154.3" y1="632.1" x2="600.8" y2="666.7" stroke="#efefef" stroke-width="0.7"/>
<line x1="154.3" y1="632.1" x2="154.3" y2="460.8" stroke="#efefef" stroke-width="0.7"/>
<line x1="168.4" y1="620.6" x2="615" y2="655.1" stroke="#efefef" stroke-width="0.7"/>
<line x1="168.4" y1="620.6" x2="168.4" y2="449.3" stroke="#efefef" stroke-width="0.7"/>
<line x1="182.5" y1="609.2" x2="629.2" y2="643.6" stroke="#efefef" stroke-width="0.7"/>
<line x1="182.5" y1="609.2" x2="182.5" y2="437.9" stroke="#efefef" stroke-width="0.7"/>
<line x1="196.6" y1="597.7" x2="643.4" y2="632" stroke="#efefef" stroke-width="0.7"/>
<line x1="196.6" y1="597.7" x2="196.6" y2="426.4" stroke="#efefef" stroke-width="0.7"/>
<line x1="55.6" y1="712.4" x2="196.6" y2="597.7" stroke="#efefef" stroke-width="0.7"/>
<line x1="196.6" y1="597.7" x2="643.4" y2="632" stroke="#efefef" stroke-width="0.7"/>
<line x1="55.6" y1="683.9" x2="196.6" y2="569.1" stroke="#efefef" stroke-width="0.7"/>
<line x1="196.6" y1="569.1" x2="643.4" y2="603.5" stroke="#efefef" stroke-width="0.7"/>
<line x1="55.6" y1="655.3" x2="196.6" y2="540.6" stroke="#efefef" stroke-width="0.7"/>
<line x1="196.6" y1="540.6" x2="643.4" y2="574.9" stroke="#efefef" stroke-width="0.7"/>
<line x1="55.6" y1="626.8" x2="196.6" y2="512" stroke="#efefef" stroke-width="0.7"/>
<line x1="196.6" y1="512" x2="643.4" y2="546.4" stroke="#efefef" stroke-width="0.7"/>
<line x1="55.6" y1="598.2" x2="196.6" y2="483.5" stroke="#efefef" stroke-width="0.7"/>
<line x1="196.6" y1="483.5" x2="643.4" y2="517.8" stroke="#efefef" stroke-width="0.7"/>
<line x1="55.6" y1="569.6" x2="196.6" y2="454.9" stroke="#efefef" stroke-width="0.7"/>
<line x1="196.6" y1="454.9" x2="643.4" y2="489.3" stroke="#efefef" stroke-width="0.7"/>
<line x1="55.6" y1="541.1" x2="196.6" y2="426.4" stroke="#efefef" stroke-width="0.7"/>
<line x1="196.6" y1="426.4" x2="643.4" y2="460.7" stroke="#efefef" stroke-width="0.7"/>
<line x1="196.6" y1="597.7" x2="196.6" y2="426.4" stroke="#efefef" stroke-width="0.7"/>
<line x1="196.6" y1="597.7" x2="643.4" y2="632" stroke="#efefef" stroke-width="0.7"/>
<line x1="196.6" y1="597.7" x2="55.6" y2="712.4" stroke="#efefef" stroke-width="0.7"/>
<g stroke="#1f4a52" stroke-width="0.5" stroke-linejoin="round"><polygon points="182.5,597.8 191.6,598.5 205.7,591.5 196.6,592" fill="#89d4e7" fill-opacity="0.92"/><polygon points="191.6,598.5 200.7,603.2 214.8,584.5 205.7,591.5" fill="#89d4e7" fill-opacity="0.92"/><polygon points="200.7,603.2 209.8,595.9 224,587.2 214.8,584.5" fill="#8ad5e8" fill-opacity="0.92"/><polygon points="209.8,595.9 219,597.8 233.1,586 224,587.2" fill="#88d3e7" fill-opacity="0.92"/><polygon points="219,597.8 228.1,605.7 242.2,594.9 233.1,586" fill="#88d3e7" fill-opacity="0.92"/><polygon points="228.1,605.7 237.2,601.3 251.3,596.6 242.2,594.9" fill="#8ad5e8" fill-opacity="0.92"/><polygon points="237.2,601.3 246.3,606.7 260.4,599.1 251.3,596.6" fill="#88d3e7" fill-opacity="0.92"/><polygon points="246.3,606.7 255.4,613.2 269.5,588.1 260.4,599.1" fill="#8ad5e8" fill-opacity="0.92"/><polygon points="255.4,613.2 264.5,606.2 278.7,598.8 269.5,588.1" fill="#8cd7e8" fill-opacity="0.92"/><polygon points="264.5,606.2 273.7,614.5 287.8,599.9 278.7,598.8" fill="#89d4e7" fill-opacity="0.92"/><polygon points="273.7,614.5 282.8,607.2 296.9,599.5 287.8,599.9" fill="#8cd7e8" fill-opacity="0.92"/><polygon points="282.8,607.2 291.9,616.4 306,602.1 296.9,599.5" fill="#89d4e7" fill-opacity="0.92"/><polygon points="291.9,616.4 301,610.7 315.1,605.6 306,602.1" fill="#8cd7e8" fill-opacity="0.92"/><polygon points="301,610.7 310.1,616.2 324.3,601.5 315.1,605.6" fill="#8ad5e8" fill-opacity="0.92"/><polygon points="310.1,616.2 319.2,615 333.4,604.2 324.3,601.5" fill="#8bd6e8" fill-opacity="0.92"/><polygon points="319.2,615 333.8,611.5 348,603.6 333.4,604.2" fill="#8bd6e8" fill-opacity="0.92"/><polygon points="333.8,611.5 346.6,615.7 360.7,601.1 348,603.6" fill="#89d4e7" fill-opacity="0.92"/><polygon points="346.6,615.7 355.7,615 369.8,608 360.7,601.1" fill="#8ad5e8" fill-opacity="0.92"/><polygon points="355.7,615 364.8,615.2 379,604.3 369.8,608" fill="#8ad5e8" fill-opacity="0.92"/><polygon points="364.8,615.2 373.9,616.5 388.1,605 379,604.3" fill="#8ad5e8" fill-opacity="0.92"/><polygon points="373.9,616.5 383.1,616 397.2,609.1 388.1,605" fill="#8ad5e8" fill-opacity="0.92"/><polygon points="383.1,616 392.2,616.2 406.3,607.8 397.2,609.1" fill="#89d4e7" fill-opacity="0.92"/><polygon points="392.2,616.2 410.4,624 424.6,605.8 406.3,607.8" fill="#89d4e7" fill-opacity="0.92"/><polygon points="410.4,624 428.6,621.4 442.8,611.9 424.6,605.8" fill="#8bd6e8" fill-opacity="0.92"/><polygon points="428.6,621.4 446.9,625.5 461,610.2 442.8,611.9" fill="#8ad5e8" fill-opacity="0.92"/><polygon points="446.9,625.5 465.1,622.9 479.3,604.9 461,610.2" fill="#8bd6e8" fill-opacity="0.92"/><polygon points="465.1,622.9 483.3,630.9 497.5,611 479.3,604.9" fill="#8ad5e8" fill-opacity="0.92"/><polygon points="483.3,630.9 501.6,627.3 515.7,612.7 497.5,611" fill="#8cd7e8" fill-opacity="0.92"/><polygon points="501.6,627.3 519.8,626.8 534,608.9 515.7,612.7" fill="#8ad5e8" fill-opacity="0.92"/><polygon points="519.8,626.8 538,628.6 552.2,618.7 534,608.9" fill="#8ad5e8" fill-opacity="0.92"/><polygon points="538,628.6 556.3,635.7 570.5,618.6 552.2,618.7" fill="#8ad5e8" fill-opacity="0.92"/><polygon points="556.3,635.7 574.5,630.8 588.7,622.3 570.5,618.6" fill="#8bd6e8" fill-opacity="0.92"/><polygon points="574.5,630.8 592.7,635 606.9,622.4 588.7,622.3" fill="#8ad5e8" fill-opacity="0.92"/><polygon points="592.7,635 611,635.3 625.2,624.9 606.9,622.4" fill="#8ad5e8" fill-opacity="0.92"/><polygon points="611,635.3 629.2,639 643.4,632 625.2,624.9" fill="#8ad5e8" fill-opacity="0.92"/><polygon points="168.4,600.7 177.5,604.2 191.6,598.5 182.5,597.8" fill="#83cee6" fill-opacity="0.92"/><polygon points="177.5,604.2 186.6,614.2 200.7,603.2 191.6,598.5" fill="#87d2e7" fill-opacity="0.92"/><polygon points="186.6,614.2 195.7,615.7 209.8,595.9 200.7,603.2" fill="#8ad5e8" fill-opacity="0.92"/><polygon points="195.7,615.7 204.9,618.3 219,597.8 209.8,595.9" fill="#8ad5e8" fill-opacity="0.92"/><polygon points="204.9,618.3 214,620 228.1,605.7 219,597.8" fill="#8bd6e8" fill-opacity="0.92"/><polygon points="214,620 223.1,612.3 237.2,601.3 228.1,605.7" fill="#8bd6e8" fill-opacity="0.92"/><polygon points="223.1,612.3 232.2,622.6 246.3,606.7 237.2,601.3" fill="#88d3e7" fill-opacity="0.92"/><polygon points="232.2,622.6 241.3,619.9 255.4,613.2 246.3,606.7" fill="#8bd6e8" fill-opacity="0.92"/><polygon points="241.3,619.9 250.4,615.6 264.5,606.2 255.4,613.2" fill="#8ad5e8" fill-opacity="0.92"/><polygon points="250.4,615.6 259.5,613.4 273.7,614.5 264.5,606.2" fill="#89d4e7" fill-opacity="0.92"/><polygon points="259.5,613.4 268.7,619.4 282.8,607.2 273.7,614.5" fill="#88d3e7" fill-opacity="0.92"/><polygon points="268.7,619.4 277.8,618.3 291.9,616.4 282.8,607.2" fill="#89d4e7" fill-opacity="0.92"/><polygon points="277.8,618.3 286.9,623.8 301,610.7 291.9,616.4" fill="#89d4e7" fill-opacity="0.92"/><polygon points="286.9,623.8 296,629.3 310.1,616.2 301,610.7" fill="#8ad5e8" fill-opacity="0.92"/><polygon points="296,629.3 305.1,615 319.2,615 310.1,616.2" fill="#8cd7e8" fill-opacity="0.92"/><polygon points="305.1,615 319.7,630.7 333.8,611.5 319.2,615" fill="#87d2e7" fill-opacity="0.92"/><polygon points="319.7,630.7 332.5,628.2 346.6,615.7 333.8,611.5" fill="#8cd7e8" fill-opacity="0.92"/><polygon points="332.5,628.2 341.6,622.6 355.7,615 346.6,615.7" fill="#8ad5e8" fill-opacity="0.92"/><polygon points="341.6,622.6 350.7,630.1 364.8,615.2 355.7,615" fill="#89d4e7" fill-opacity="0.92"/><polygon points="350.7,630.1 359.8,625.8 373.9,616.5 364.8,615.2" fill="#8bd6e8" fill-opacity="0.92"/><polygon points="359.8,625.8 368.9,617.7 383.1,616 373.9,616.5" fill="#89d4e7" fill-opacity="0.92"/><polygon points="368.9,617.7 378,631.6 392.2,616.2 383.1,616" fill="#85d0e7" fill-opacity="0.92"/><polygon points="378,631.6 396.3,628.5 410.4,624 392.2,616.2" fill="#8ad5e8" fill-opacity="0.92"/><polygon points="396.3,628.5 414.5,629.6 428.6,621.4 410.4,624" fill="#89d4e7" fill-opacity="0.92"/><polygon points="414.5,629.6 432.7,630.9 446.9,625.5 428.6,621.4" fill="#89d4e7" fill-opacity="0.92"/><polygon points="432.7,630.9 451,633.9 465.1,622.9 446.9,625.5" fill="#89d4e7" fill-opacity="0.92"/><polygon points="451,633.9 469.2,641.7 483.3,630.9 465.1,622.9" fill="#8ad5e8" fill-opacity="0.92"/><polygon points="469.2,641.7 487.4,641 501.6,627.3 483.3,630.9" fill="#8bd6e8" fill-opacity="0.92"/><polygon points="487.4,641 505.6,640.5 519.8,626.8 501.6,627.3" fill="#8bd6e8" fill-opacity="0.92"/><polygon points="505.6,640.5 523.9,641.7 538,628.6 519.8,626.8" fill="#8ad5e8" fill-opacity="0.92"/><polygon points="523.9,641.7 542.1,639.8 556.3,635.7 538,628.6" fill="#8ad5e8" fill-opacity="0.92"/><polygon points="542.1,639.8 560.3,647.3 574.5,630.8 556.3,635.7" fill="#89d4e7" fill-opacity="0.92"/><polygon points="560.3,647.3 578.6,644.3 592.7,635 574.5,630.8" fill="#8bd6e8" fill-opacity="0.92"/><polygon points="578.6,644.3 596.8,648.7 611,635.3 592.7,635" fill="#8ad5e8" fill-opacity="0.92"/><polygon points="596.8,648.7 615,643.7 629.2,639 611,635.3" fill="#8bd6e8" fill-opacity="0.92"/><polygon points="154.3,603.6 163.4,607.1 177.5,604.2 168.4,600.7" fill="#78c0e5" fill-opacity="0.92"/><polygon points="163.4,607.1 172.5,617.7 186.6,614.2 177.5,604.2" fill="#7cc5e5" fill-opacity="0.92"/><polygon points="172.5,617.7 181.6,611.3 195.7,615.7 186.6,614.2" fill="#87d2e7" fill-opacity="0.92"/><polygon points="181.6,611.3 190.8,624.6 204.9,618.3 195.7,615.7" fill="#7fc9e6" fill-opacity="0.92"/><polygon points="190.8,624.6 199.9,622.7 214,620 204.9,618.3" fill="#89d4e7" fill-opacity="0.92"/><polygon points="199.9,622.7 209,627.3 223.1,612.3 214,620" fill="#88d3e7" fill-opacity="0.92"/><polygon points="209,627.3 218.1,631.6 232.2,622.6 223.1,612.3" fill="#89d4e7" fill-opacity="0.92"/><polygon points="218.1,631.6 227.2,620.6 241.3,619.9 232.2,622.6" fill="#8ad5e8" fill-opacity="0.92"/><polygon points="227.2,620.6 236.3,528.8 250.4,615.6 241.3,619.9" fill="#87d2e7" fill-opacity="0.92"/><polygon points="236.3,528.8 245.4,627.7 259.5,613.4 250.4,615.6" fill="#a351c6" fill-opacity="0.92"/><polygon points="245.4,627.7 254.5,631.2 268.7,619.4 259.5,613.4" fill="#89d4e7" fill-opacity="0.92"/><polygon points="254.5,631.2 263.7,635.6 277.8,618.3 268.7,619.4" fill="#89d4e7" fill-opacity="0.92"/><polygon points="263.7,635.6 272.8,636.4 286.9,623.8 277.8,618.3" fill="#8bd6e8" fill-opacity="0.92"/><polygon points="272.8,636.4 281.9,631.8 296,629.3 286.9,623.8" fill="#8bd6e8" fill-opacity="0.92"/><polygon points="281.9,631.8 291,638.2 305.1,615 296,629.3" fill="#89d4e7" fill-opacity="0.92"/><polygon points="291,638.2 305.6,625.6 319.7,630.7 305.1,615" fill="#8bd6e8" fill-opacity="0.92"/><polygon points="305.6,625.6 318.3,639.1 332.5,628.2 319.7,630.7" fill="#86d0e7" fill-opacity="0.92"/><polygon points="318.3,639.1 327.4,576.4 341.6,622.6 332.5,628.2" fill="#8ad5e8" fill-opacity="0.92"/><polygon points="327.4,576.4 336.6,643.4 350.7,630.1 341.6,622.6" fill="#8290d4" fill-opacity="0.92"/><polygon points="336.6,643.4 345.7,643.3 359.8,625.8 350.7,630.1" fill="#8bd6e8" fill-opacity="0.92"/><polygon points="345.7,643.3 354.8,636.5 368.9,617.7 359.8,625.8" fill="#8bd6e8" fill-opacity="0.92"/><polygon points="354.8,636.5 363.9,643 378,631.6 368.9,617.7" fill="#89d4e7" fill-opacity="0.92"/><polygon points="363.9,643 382.1,646.9 396.3,628.5 378,631.6" fill="#8ad5e8" fill-opacity="0.92"/><polygon points="382.1,646.9 400.3,646.9 414.5,629.6 396.3,628.5" fill="#8bd6e8" fill-opacity="0.92"/><polygon points="400.3,646.9 418.6,642.2 432.7,630.9 414.5,629.6" fill="#8bd6e8" fill-opacity="0.92"/><polygon points="418.6,642.2 436.8,651.1 451,633.9 432.7,630.9" fill="#89d4e7" fill-opacity="0.92"/><polygon points="436.8,651.1 455,646.2 469.2,641.7 451,633.9" fill="#8bd6e8" fill-opacity="0.92"/><polygon points="455,646.2 473.3,654.3 487.4,641 469.2,641.7" fill="#89d4e7" fill-opacity="0.92"/><polygon points="473.3,654.3 491.5,647.2 505.6,640.5 487.4,641" fill="#8bd6e8" fill-opacity="0.92"/><polygon points="491.5,647.2 509.7,653 523.9,641.7 505.6,640.5" fill="#89d4e7" fill-opacity="0.92"/><polygon points="509.7,653 527.9,659.4 542.1,639.8 523.9,641.7" fill="#8ad5e8" fill-opacity="0.92"/><polygon points="527.9,659.4 546.2,643.9 560.3,647.3 542.1,639.8" fill="#8cd7e8" fill-opacity="0.92"/><polygon points="546.2,643.9 564.4,659 578.6,644.3 560.3,647.3" fill="#85d0e7" fill-opacity="0.92"/><polygon points="564.4,659 582.6,656.6 596.8,648.7 578.6,644.3" fill="#8bd6e8" fill-opacity="0.92"/><polygon points="582.6,656.6 600.8,622.7 615,643.7 596.8,648.7" fill="#89d4e7" fill-opacity="0.92"/><polygon points="140.2,611 149.3,615.7 163.4,607.1 154.3,603.6" fill="#74bbe4" fill-opacity="0.92"/><polygon points="149.3,615.7 158.4,630.9 172.5,617.7 163.4,607.1" fill="#78c0e5" fill-opacity="0.92"/><polygon points="158.4,630.9 167.5,638.3 181.6,611.3 172.5,617.7" fill="#88d3e7" fill-opacity="0.92"/><polygon points="167.5,638.3 176.6,638.7 190.8,624.6 181.6,611.3" fill="#8ad5e8" fill-opacity="0.92"/><polygon points="176.6,638.7 185.8,640.9 199.9,622.7 190.8,624.6" fill="#8ad5e8" fill-opacity="0.92"/><polygon points="185.8,640.9 194.9,638.8 209,627.3 199.9,622.7" fill="#8ad5e8" fill-opacity="0.92"/><polygon points="194.9,638.8 204,645.6 218.1,631.6 209,627.3" fill="#89d4e7" fill-opacity="0.92"/><polygon points="204,645.6 213.1,632.1 227.2,620.6 218.1,631.6" fill="#8bd6e8" fill-opacity="0.92"/><polygon points="213.1,632.1 222.2,532.9 236.3,528.8 227.2,620.6" fill="#87d2e7" fill-opacity="0.92"/><polygon points="222.2,532.9 231.3,647.8 245.4,627.7 236.3,528.8" fill="#a94bc2" fill-opacity="0.92"/><polygon points="231.3,647.8 240.4,649.1 254.5,631.2 245.4,627.7" fill="#8bd6e8" fill-opacity="0.92"/><polygon points="240.4,649.1 249.5,643.9 263.7,635.6 254.5,631.2" fill="#8bd6e8" fill-opacity="0.92"/><polygon points="249.5,643.9 258.6,635 272.8,636.4 263.7,635.6" fill="#8ad5e8" fill-opacity="0.92"/><polygon points="258.6,635 267.8,645.9 281.9,631.8 272.8,636.4" fill="#86d1e7" fill-opacity="0.92"/><polygon points="267.8,645.9 276.9,650.6 291,638.2 281.9,631.8" fill="#8ad5e8" fill-opacity="0.92"/><polygon points="276.9,650.6 291.4,646.1 305.6,625.6 291,638.2" fill="#8bd6e8" fill-opacity="0.92"/><polygon points="291.4,646.1 304.2,649.4 318.3,639.1 305.6,625.6" fill="#89d4e7" fill-opacity="0.92"/><polygon points="304.2,649.4 313.3,553.1 327.4,576.4 318.3,639.1" fill="#8ad5e8" fill-opacity="0.92"/><polygon points="313.3,553.1 322.4,656 336.6,643.4 327.4,576.4" fill="#9f57c8" fill-opacity="0.92"/><polygon points="322.4,656 331.5,654.3 345.7,643.3 336.6,643.4" fill="#8cd6e8" fill-opacity="0.92"/><polygon points="331.5,654.3 340.6,652.7 354.8,636.5 345.7,643.3" fill="#8bd6e8" fill-opacity="0.92"/><polygon points="340.6,652.7 349.8,652.2 363.9,643 354.8,636.5" fill="#8ad5e8" fill-opacity="0.92"/><polygon points="349.8,652.2 368,652.6 382.1,646.9 363.9,643" fill="#8ad5e8" fill-opacity="0.92"/><polygon points="368,652.6 386.2,626.1 400.3,646.9 382.1,646.9" fill="#89d4e7" fill-opacity="0.92"/><polygon points="386.2,626.1 404.4,658.6 418.6,642.2 400.3,646.9" fill="#76b6e2" fill-opacity="0.92"/><polygon points="404.4,658.6 422.6,655.2 436.8,651.1 418.6,642.2" fill="#8ad5e8" fill-opacity="0.92"/><polygon points="422.6,655.2 440.9,657.2 455,646.2 436.8,651.1" fill="#89d4e7" fill-opacity="0.92"/><polygon points="440.9,657.2 459.1,642 473.3,654.3 455,646.2" fill="#89d4e7" fill-opacity="0.92"/><polygon points="459.1,642 477.3,661.9 491.5,647.2 473.3,654.3" fill="#7bc4e5" fill-opacity="0.92"/><polygon points="477.3,661.9 495.5,666.8 509.7,653 491.5,647.2" fill="#8ad5e8" fill-opacity="0.92"/><polygon points="495.5,666.8 513.8,655.3 527.9,659.4 509.7,653" fill="#8bd6e8" fill-opacity="0.92"/><polygon points="513.8,655.3 532,667.2 546.2,643.9 527.9,659.4" fill="#87d2e7" fill-opacity="0.92"/><polygon points="532,667.2 550.2,669.5 564.4,659 546.2,643.9" fill="#8ad5e8" fill-opacity="0.92"/><polygon points="550.2,669.5 568.4,666.5 582.6,656.6 564.4,659" fill="#8ad5e8" fill-opacity="0.92"/><polygon points="568.4,666.5 586.6,620 600.8,622.7 582.6,656.6" fill="#89d4e7" fill-opacity="0.92"/><polygon points="126.1,626.5 135.2,627.2 149.3,615.7 140.2,611" fill="#78c0e5" fill-opacity="0.92"/><polygon points="135.2,627.2 144.3,642.6 158.4,630.9 149.3,615.7" fill="#78c0e5" fill-opacity="0.92"/><polygon points="144.3,642.6 153.4,650.1 167.5,638.3 158.4,630.9" fill="#88d3e7" fill-opacity="0.92"/><polygon points="153.4,650.1 162.5,651.3 176.6,638.7 167.5,638.3" fill="#8ad5e8" fill-opacity="0.92"/><polygon points="162.5,651.3 171.6,651.2 185.8,640.9 176.6,638.7" fill="#8ad5e8" fill-opacity="0.92"/><polygon points="171.6,651.2 180.8,652.6 194.9,638.8 185.8,640.9" fill="#8ad5e8" fill-opacity="0.92"/><polygon points="180.8,652.6 189.9,649.3 204,645.6 194.9,638.8" fill="#8ad5e8" fill-opacity="0.92"/><polygon points="189.9,649.3 199,649.3 213.1,632.1 204,645.6" fill="#89d4e7" fill-opacity="0.92"/><polygon points="199,649.3 208.1,644.3 222.2,532.9 213.1,632.1" fill="#89d4e7" fill-opacity="0.92"/><polygon points="208.1,644.3 217.2,656.4 231.3,647.8 222.2,532.9" fill="#87d2e7" fill-opacity="0.92"/><polygon points="217.2,656.4 226.3,657.9 240.4,649.1 231.3,647.8" fill="#8ad5e8" fill-opacity="0.92"/><polygon points="226.3,657.9 235.4,660 249.5,643.9 240.4,649.1" fill="#8bd6e8" fill-opacity="0.92"/><polygon points="235.4,660 244.5,658.5 258.6,635 249.5,643.9" fill="#8bd6e8" fill-opacity="0.92"/><polygon points="244.5,658.5 253.6,661 267.8,645.9 258.6,635" fill="#8ad5e8" fill-opacity="0.92"/><polygon points="253.6,661 262.7,659.4 276.9,650.6 267.8,645.9" fill="#8bd6e8" fill-opacity="0.92"/><polygon points="262.7,659.4 277.3,579.4 291.4,646.1 276.9,650.6" fill="#8ad5e8" fill-opacity="0.92"/><polygon points="277.3,579.4 290.1,662.7 304.2,649.4 291.4,646.1" fill="#926cce" fill-opacity="0.92"/><polygon points="290.1,662.7 299.2,651.4 313.3,553.1 304.2,649.4" fill="#8bd6e8" fill-opacity="0.92"/><polygon points="299.2,651.4 308.3,666.9 322.4,656 313.3,553.1" fill="#87d2e7" fill-opacity="0.92"/><polygon points="308.3,666.9 317.4,661.1 331.5,654.3 322.4,656" fill="#8bd6e8" fill-opacity="0.92"/><polygon points="317.4,661.1 326.5,668.9 340.6,652.7 331.5,654.3" fill="#89d4e7" fill-opacity="0.92"/><polygon points="326.5,668.9 335.6,646.7 349.8,652.2 340.6,652.7" fill="#8bd6e8" fill-opacity="0.92"/><polygon points="335.6,646.7 353.8,661.9 368,652.6 349.8,652.2" fill="#7dc6e5" fill-opacity="0.92"/><polygon points="353.8,661.9 372,657 386.2,626.1 368,652.6" fill="#89d4e7" fill-opacity="0.92"/><polygon points="372,657 390.3,671.5 404.4,658.6 386.2,626.1" fill="#87d2e7" fill-opacity="0.92"/><polygon points="390.3,671.5 408.5,669 422.6,655.2 404.4,658.6" fill="#8bd6e8" fill-opacity="0.92"/><polygon points="408.5,669 426.7,659.4 440.9,657.2 422.6,655.2" fill="#8ad5e8" fill-opacity="0.92"/><polygon points="426.7,659.4 444.9,663.9 459.1,642 440.9,657.2" fill="#85cfe7" fill-opacity="0.92"/><polygon points="444.9,663.9 463.1,678.6 477.3,661.9 459.1,642" fill="#87d2e7" fill-opacity="0.92"/><polygon points="463.1,678.6 481.4,671.5 495.5,666.8 477.3,661.9" fill="#8bd6e8" fill-opacity="0.92"/><polygon points="481.4,671.5 499.6,673.1 513.8,655.3 495.5,666.8" fill="#89d4e7" fill-opacity="0.92"/><polygon points="499.6,673.1 517.8,680 532,667.2 513.8,655.3" fill="#89d4e7" fill-opacity="0.92"/><polygon points="517.8,680 536,679.7 550.2,669.5 532,667.2" fill="#8ad5e8" fill-opacity="0.92"/><polygon points="536,679.7 554.2,686.8 568.4,666.5 550.2,669.5" fill="#8ad5e8" fill-opacity="0.92"/><polygon points="554.2,686.8 572.5,689.8 586.6,620 568.4,666.5" fill="#8cd7e8" fill-opacity="0.92"/><polygon points="112,642.5 121.1,635.8 135.2,627.2 126.1,626.5" fill="#7ec7e6" fill-opacity="0.92"/><polygon points="121.1,635.8 130.2,652.9 144.3,642.6 135.2,627.2" fill="#74bce4" fill-opacity="0.92"/><polygon points="130.2,652.9 139.3,659.5 153.4,650.1 144.3,642.6" fill="#88d3e7" fill-opacity="0.92"/><polygon points="139.3,659.5 148.4,664.1 162.5,651.3 153.4,650.1" fill="#89d4e7" fill-opacity="0.92"/><polygon points="148.4,664.1 157.5,664.8 171.6,651.2 162.5,651.3" fill="#8ad5e8" fill-opacity="0.92"/><polygon points="157.5,664.8 166.6,667.7 180.8,652.6 171.6,651.2" fill="#8ad5e8" fill-opacity="0.92"/><polygon points="166.6,667.7 175.8,664.1 189.9,649.3 180.8,652.6" fill="#8bd6e8" fill-opacity="0.92"/><polygon points="175.8,664.1 184.9,637.9 199,649.3 189.9,649.3" fill="#8ad5e8" fill-opacity="0.92"/><polygon points="184.9,637.9 194,552.4 208.1,644.3 199,649.3" fill="#75b9e3" fill-opacity="0.92"/><polygon points="194,552.4 203.1,663.9 217.2,656.4 208.1,644.3" fill="#ad4ac0" fill-opacity="0.92"/><polygon points="203.1,663.9 212.2,669.8 226.3,657.9 217.2,656.4" fill="#89d4e7" fill-opacity="0.92"/><polygon points="212.2,669.8 221.3,667.8 235.4,660 226.3,657.9" fill="#8bd6e8" fill-opacity="0.92"/><polygon points="221.3,667.8 230.4,652.5 244.5,658.5 235.4,660" fill="#8ad5e8" fill-opacity="0.92"/><polygon points="230.4,652.5 239.5,665.1 253.6,661 244.5,658.5" fill="#7fc9e6" fill-opacity="0.92"/><polygon points="239.5,665.1 248.6,673.5 262.7,659.4 253.6,661" fill="#89d4e7" fill-opacity="0.92"/><polygon points="248.6,673.5 263.2,677.1 277.3,579.4 262.7,659.4" fill="#8bd6e8" fill-opacity="0.92"/><polygon points="263.2,677.1 275.9,670.7 290.1,662.7 277.3,579.4" fill="#8cd7e8" fill-opacity="0.92"/><polygon points="275.9,670.7 285,580.7 299.2,651.4 290.1,662.7" fill="#8ad4e8" fill-opacity="0.92"/><polygon points="285,580.7 294.1,678.4 308.3,666.9 299.2,651.4" fill="#9c5cca" fill-opacity="0.92"/><polygon points="294.1,678.4 303.3,672.4 317.4,661.1 308.3,666.9" fill="#8bd6e8" fill-opacity="0.92"/><polygon points="303.3,672.4 312.4,672.1 326.5,668.9 317.4,661.1" fill="#89d4e7" fill-opacity="0.92"/><polygon points="312.4,672.1 321.5,675.4 335.6,646.7 326.5,668.9" fill="#89d4e7" fill-opacity="0.92"/><polygon points="321.5,675.4 339.7,674.2 353.8,661.9 335.6,646.7" fill="#8ad5e8" fill-opacity="0.92"/><polygon points="339.7,674.2 357.9,653.7 372,657 353.8,661.9" fill="#89d4e7" fill-opacity="0.92"/><polygon points="357.9,653.7 376.1,683.2 390.3,671.5 372,657" fill="#74bbe4" fill-opacity="0.92"/><polygon points="376.1,683.2 394.3,684.5 408.5,669 390.3,671.5" fill="#8bd6e8" fill-opacity="0.92"/><polygon points="394.3,684.5 412.5,667.3 426.7,659.4 408.5,669" fill="#8bd6e8" fill-opacity="0.92"/><polygon points="412.5,667.3 430.8,661.1 444.9,663.9 426.7,659.4" fill="#80cae6" fill-opacity="0.92"/><polygon points="430.8,661.1 449,691.3 463.1,678.6 444.9,663.9" fill="#76bee4" fill-opacity="0.92"/><polygon points="449,691.3 467.2,686.2 481.4,671.5 463.1,678.6" fill="#8cd7e8" fill-opacity="0.92"/><polygon points="467.2,686.2 485.4,693.8 499.6,673.1 481.4,671.5" fill="#8ad5e8" fill-opacity="0.92"/><polygon points="485.4,693.8 503.6,692.2 517.8,680 499.6,673.1" fill="#8bd6e8" fill-opacity="0.92"/><polygon points="503.6,692.2 521.8,680.8 536,679.7 517.8,680" fill="#8bd6e8" fill-opacity="0.92"/><polygon points="521.8,680.8 540,696.9 554.2,686.8 536,679.7" fill="#86d1e7" fill-opacity="0.92"/><polygon points="540,696.9 558.3,656.2 572.5,689.8 554.2,686.8" fill="#8bd6e8" fill-opacity="0.92"/><polygon points="97.9,658 107,655.9 121.1,635.8 112,642.5" fill="#83cee6" fill-opacity="0.92"/><polygon points="107,655.9 116.1,668.4 130.2,652.9 121.1,635.8" fill="#7fc9e6" fill-opacity="0.92"/><polygon points="116.1,668.4 125.2,674.1 139.3,659.5 130.2,652.9" fill="#89d4e7" fill-opacity="0.92"/><polygon points="125.2,674.1 134.3,670.7 148.4,664.1 139.3,659.5" fill="#8ad5e8" fill-opacity="0.92"/><polygon points="134.3,670.7 143.4,671.6 157.5,664.8 148.4,664.1" fill="#89d4e7" fill-opacity="0.92"/><polygon points="143.4,671.6 152.5,670.9 166.6,667.7 157.5,664.8" fill="#89d4e7" fill-opacity="0.92"/><polygon points="152.5,670.9 161.6,671.3 175.8,664.1 166.6,667.7" fill="#89d4e7" fill-opacity="0.92"/><polygon points="161.6,671.3 170.7,655.1 184.9,637.9 175.8,664.1" fill="#89d4e7" fill-opacity="0.92"/><polygon points="170.7,655.1 179.8,610.2 194,552.4 184.9,637.9" fill="#78c0e5" fill-opacity="0.92"/><polygon points="179.8,610.2 189,682.8 203.1,663.9 194,552.4" fill="#8786d2" fill-opacity="0.92"/><polygon points="189,682.8 198.1,684.1 212.2,669.8 203.1,663.9" fill="#8bd6e8" fill-opacity="0.92"/><polygon points="198.1,684.1 207.2,683.1 221.3,667.8 212.2,669.8" fill="#8cd6e8" fill-opacity="0.92"/><polygon points="207.2,683.1 216.3,680.2 230.4,652.5 221.3,667.8" fill="#8bd6e8" fill-opacity="0.92"/><polygon points="216.3,680.2 225.4,685.1 239.5,665.1 230.4,652.5" fill="#8ad5e8" fill-opacity="0.92"/><polygon points="225.4,685.1 234.5,679.5 248.6,673.5 239.5,665.1" fill="#8bd6e8" fill-opacity="0.92"/><polygon points="234.5,679.5 249.1,679.9 263.2,677.1 248.6,673.5" fill="#89d4e7" fill-opacity="0.92"/><polygon points="249.1,679.9 261.8,685.1 275.9,670.7 263.2,677.1" fill="#89d4e7" fill-opacity="0.92"/><polygon points="261.8,685.1 270.9,600.7 285,580.7 275.9,670.7" fill="#8ad5e8" fill-opacity="0.92"/><polygon points="270.9,600.7 280,690.5 294.1,678.4 285,580.7" fill="#9665cd" fill-opacity="0.92"/><polygon points="280,690.5 289.1,681.8 303.3,672.4 294.1,678.4" fill="#8cd6e8" fill-opacity="0.92"/><polygon points="289.1,681.8 298.2,689.7 312.4,672.1 303.3,672.4" fill="#89d4e7" fill-opacity="0.92"/><polygon points="298.2,689.7 307.3,691.5 321.5,675.4 312.4,672.1" fill="#8bd6e8" fill-opacity="0.92"/><polygon points="307.3,691.5 325.5,685.6 339.7,674.2 321.5,675.4" fill="#8bd6e8" fill-opacity="0.92"/><polygon points="325.5,685.6 343.7,672.7 357.9,653.7 339.7,674.2" fill="#89d4e7" fill-opacity="0.92"/><polygon points="343.7,672.7 362,695.5 376.1,683.2 357.9,653.7" fill="#7dc7e5" fill-opacity="0.92"/><polygon points="362,695.5 380.2,694.4 394.3,684.5 376.1,683.2" fill="#8bd6e8" fill-opacity="0.92"/><polygon points="380.2,694.4 398.4,692.9 412.5,667.3 394.3,684.5" fill="#8ad5e8" fill-opacity="0.92"/><polygon points="398.4,692.9 416.6,675.5 430.8,661.1 412.5,667.3" fill="#8ad5e8" fill-opacity="0.92"/><polygon points="416.6,675.5 434.8,701.4 449,691.3 430.8,661.1" fill="#79c2e5" fill-opacity="0.92"/><polygon points="434.8,701.4 453,697.8 467.2,686.2 449,691.3" fill="#8bd6e8" fill-opacity="0.92"/><polygon points="453,697.8 471.2,697.7 485.4,693.8 467.2,686.2" fill="#8ad5e8" fill-opacity="0.92"/><polygon points="471.2,697.7 489.4,701.8 503.6,692.2 485.4,693.8" fill="#89d4e7" fill-opacity="0.92"/><polygon points="489.4,701.8 507.6,707.2 521.8,680.8 503.6,692.2" fill="#8ad5e8" fill-opacity="0.92"/><polygon points="507.6,707.2 525.9,709.9 540,696.9 521.8,680.8" fill="#8bd6e8" fill-opacity="0.92"/><polygon points="525.9,709.9 544.1,681.5 558.3,656.2 540,696.9" fill="#8cd7e8" fill-opacity="0.92"/><polygon points="83.8,672.3 92.9,667.3 107,655.9 97.9,658" fill="#87d2e7" fill-opacity="0.92"/><polygon points="92.9,667.3 102,660.6 116.1,668.4 107,655.9" fill="#7fc9e6" fill-opacity="0.92"/><polygon points="102,660.6 111.1,674.5 125.2,674.1 116.1,668.4" fill="#76bee4" fill-opacity="0.92"/><polygon points="111.1,674.5 120.2,666.6 134.3,670.7 125.2,674.1" fill="#87d2e7" fill-opacity="0.92"/><polygon points="120.2,666.6 129.3,673 143.4,671.6 134.3,670.7" fill="#7cc5e5" fill-opacity="0.92"/><polygon points="129.3,673 138.4,665.2 152.5,670.9 143.4,671.6" fill="#83cee6" fill-opacity="0.92"/><polygon points="138.4,665.2 147.5,689.4 161.6,671.3 152.5,670.9" fill="#78c0e5" fill-opacity="0.92"/><polygon points="147.5,689.4 156.6,692.3 170.7,655.1 161.6,671.3" fill="#8bd6e8" fill-opacity="0.92"/><polygon points="156.6,692.3 165.7,673 179.8,610.2 170.7,655.1" fill="#8bd6e8" fill-opacity="0.92"/><polygon points="165.7,673 174.8,565.8 189,682.8 179.8,610.2" fill="#7fc9e6" fill-opacity="0.92"/><polygon points="174.8,565.8 183.9,695.6 198.1,684.1 189,682.8" fill="#b846ba" fill-opacity="0.92"/><polygon points="183.9,695.6 193,688.7 207.2,683.1 198.1,684.1" fill="#8cd6e8" fill-opacity="0.92"/><polygon points="193,688.7 202.1,692.2 216.3,680.2 207.2,683.1" fill="#89d4e7" fill-opacity="0.92"/><polygon points="202.1,692.2 211.3,693.6 225.4,685.1 216.3,680.2" fill="#8ad5e8" fill-opacity="0.92"/><polygon points="211.3,693.6 220.4,691 234.5,679.5 225.4,685.1" fill="#8ad5e8" fill-opacity="0.92"/><polygon points="220.4,691 234.9,691 249.1,679.9 234.5,679.5" fill="#89d4e7" fill-opacity="0.92"/><polygon points="234.9,691 247.7,694.2 261.8,685.1 249.1,679.9" fill="#89d4e7" fill-opacity="0.92"/><polygon points="247.7,694.2 256.8,691.6 270.9,600.7 261.8,685.1" fill="#8ad5e8" fill-opacity="0.92"/><polygon points="256.8,691.6 265.9,692.9 280,690.5 270.9,600.7" fill="#89d4e7" fill-opacity="0.92"/><polygon points="265.9,692.9 275,702.9 289.1,681.8 280,690.5" fill="#89d4e7" fill-opacity="0.92"/><polygon points="275,702.9 284.1,687.3 298.2,689.7 289.1,681.8" fill="#8cd7e8" fill-opacity="0.92"/><polygon points="284.1,687.3 293.2,701.9 307.3,691.5 298.2,689.7" fill="#86d1e7" fill-opacity="0.92"/><polygon points="293.2,701.9 311.4,701.3 325.5,685.6 307.3,691.5" fill="#8bd6e8" fill-opacity="0.92"/><polygon points="311.4,701.3 329.6,699.4 343.7,672.7 325.5,685.6" fill="#8ad5e8" fill-opacity="0.92"/><polygon points="329.6,699.4 347.8,701.6 362,695.5 343.7,672.7" fill="#89d4e7" fill-opacity="0.92"/><polygon points="347.8,701.6 366,708.9 380.2,694.4 362,695.5" fill="#8ad5e8" fill-opacity="0.92"/><polygon points="366,708.9 384.2,705.1 398.4,692.9 380.2,694.4" fill="#8bd6e8" fill-opacity="0.92"/><polygon points="384.2,705.1 402.4,712.6 416.6,675.5 398.4,692.9" fill="#8ad5e8" fill-opacity="0.92"/><polygon points="402.4,712.6 420.6,704.3 434.8,701.4 416.6,675.5" fill="#8bd6e8" fill-opacity="0.92"/><polygon points="420.6,704.3 438.8,707.8 453,697.8 434.8,701.4" fill="#89d4e7" fill-opacity="0.92"/><polygon points="438.8,707.8 457.1,713.2 471.2,697.7 453,697.8" fill="#89d4e7" fill-opacity="0.92"/><polygon points="457.1,713.2 475.3,712.8 489.4,701.8 471.2,697.7" fill="#8ad5e8" fill-opacity="0.92"/><polygon points="475.3,712.8 493.5,712.9 507.6,707.2 489.4,701.8" fill="#8ad5e8" fill-opacity="0.92"/><polygon points="493.5,712.9 511.7,713.4 525.9,709.9 507.6,707.2" fill="#89d4e7" fill-opacity="0.92"/><polygon points="511.7,713.4 529.9,708.4 544.1,681.5 525.9,709.9" fill="#89d4e7" fill-opacity="0.92"/><polygon points="69.7,688.4 78.8,684.5 92.9,667.3 83.8,672.3" fill="#88d3e7" fill-opacity="0.92"/><polygon points="78.8,684.5 87.9,661.8 102,660.6 92.9,667.3" fill="#87d2e7" fill-opacity="0.92"/><polygon points="87.9,661.8 97,694.8 111.1,674.5 102,660.6" fill="#77b1e0" fill-opacity="0.92"/><polygon points="97,694.8 106.1,694.6 120.2,666.6 111.1,674.5" fill="#8ad5e8" fill-opacity="0.92"/><polygon points="106.1,694.6 115.2,681.7 129.3,673 120.2,666.6" fill="#89d4e7" fill-opacity="0.92"/><polygon points="115.2,681.7 124.3,695.6 138.4,665.2 129.3,673" fill="#7fc9e6" fill-opacity="0.92"/><polygon points="124.3,695.6 133.4,700.1 147.5,689.4 138.4,665.2" fill="#89d4e7" fill-opacity="0.92"/><polygon points="133.4,700.1 142.5,601 156.6,692.3 147.5,689.4" fill="#8ad5e8" fill-opacity="0.92"/><polygon points="142.5,601 151.6,602.9 165.7,673 156.6,692.3" fill="#a055c7" fill-opacity="0.92"/><polygon points="151.6,602.9 160.7,556.2 174.8,565.8 165.7,673" fill="#9f56c8" fill-opacity="0.92"/><polygon points="160.7,556.2 169.8,706.5 183.9,695.6 174.8,565.8" fill="#ca48ad" fill-opacity="0.92"/><polygon points="169.8,706.5 178.9,706.5 193,688.7 183.9,695.6" fill="#8bd6e8" fill-opacity="0.92"/><polygon points="178.9,706.5 188,701.5 202.1,692.2 193,688.7" fill="#8bd6e8" fill-opacity="0.92"/><polygon points="188,701.5 197.1,705.5 211.3,693.6 202.1,692.2" fill="#89d4e7" fill-opacity="0.92"/><polygon points="197.1,705.5 206.2,706.1 220.4,691 211.3,693.6" fill="#8ad5e8" fill-opacity="0.92"/><polygon points="206.2,706.1 220.8,705.1 234.9,691 220.4,691" fill="#8ad5e8" fill-opacity="0.92"/><polygon points="220.8,705.1 233.5,707.3 247.7,694.2 234.9,691" fill="#8ad5e8" fill-opacity="0.92"/><polygon points="233.5,707.3 242.6,696.9 256.8,691.6 247.7,694.2" fill="#8ad5e8" fill-opacity="0.92"/><polygon points="242.6,696.9 251.7,714.1 265.9,692.9 256.8,691.6" fill="#86d1e7" fill-opacity="0.92"/><polygon points="251.7,714.1 260.8,713.9 275,702.9 265.9,692.9" fill="#8cd7e8" fill-opacity="0.92"/><polygon points="260.8,713.9 269.9,708.2 284.1,687.3 275,702.9" fill="#8bd6e8" fill-opacity="0.92"/><polygon points="269.9,708.2 279,710.8 293.2,701.9 284.1,687.3" fill="#8ad5e8" fill-opacity="0.92"/><polygon points="279,710.8 297.2,710.5 311.4,701.3 293.2,701.9" fill="#8ad5e8" fill-opacity="0.92"/><polygon points="297.2,710.5 315.4,709.3 329.6,699.4 311.4,701.3" fill="#8ad5e8" fill-opacity="0.92"/><polygon points="315.4,709.3 333.7,713.5 347.8,701.6 329.6,699.4" fill="#89d4e7" fill-opacity="0.92"/><polygon points="333.7,713.5 351.9,721.4 366,708.9 347.8,701.6" fill="#8ad5e8" fill-opacity="0.92"/><polygon points="351.9,721.4 370.1,720.2 384.2,705.1 366,708.9" fill="#8cd7e8" fill-opacity="0.92"/><polygon points="370.1,720.2 388.3,718.7 402.4,712.6 384.2,705.1" fill="#8bd6e8" fill-opacity="0.92"/><polygon points="388.3,718.7 406.5,723.8 420.6,704.3 402.4,712.6" fill="#8ad5e8" fill-opacity="0.92"/><polygon points="406.5,723.8 424.7,717.7 438.8,707.8 420.6,704.3" fill="#8bd6e8" fill-opacity="0.92"/><polygon points="424.7,717.7 442.9,719.4 457.1,713.2 438.8,707.8" fill="#89d4e7" fill-opacity="0.92"/><polygon points="442.9,719.4 461.1,714.4 475.3,712.8 457.1,713.2" fill="#89d4e7" fill-opacity="0.92"/><polygon points="461.1,714.4 479.3,727.1 493.5,712.9 475.3,712.8" fill="#87d2e7" fill-opacity="0.92"/><polygon points="479.3,727.1 497.5,724.7 511.7,713.4 493.5,712.9" fill="#8ad5e8" fill-opacity="0.92"/><polygon points="497.5,724.7 515.7,733.1 529.9,708.4 511.7,713.4" fill="#89d4e7" fill-opacity="0.92"/><polygon points="55.6,712.4 64.7,710.8 78.8,684.5 69.7,688.4" fill="#8cd7e8" fill-opacity="0.92"/><polygon points="64.7,710.8 73.8,711.5 87.9,661.8 78.8,684.5" fill="#8bd6e8" fill-opacity="0.92"/><polygon points="73.8,711.5 82.9,711.1 97,694.8 87.9,661.8" fill="#8bd6e8" fill-opacity="0.92"/><polygon points="82.9,711.1 92,703.8 106.1,694.6 97,694.8" fill="#8bd6e8" fill-opacity="0.92"/><polygon points="92,703.8 101.1,706.7 115.2,681.7 106.1,694.6" fill="#89d4e7" fill-opacity="0.92"/><polygon points="101.1,706.7 110.2,708.7 124.3,695.6 115.2,681.7" fill="#89d4e7" fill-opacity="0.92"/><polygon points="110.2,708.7 119.3,708.2 133.4,700.1 124.3,695.6" fill="#8ad5e8" fill-opacity="0.92"/><polygon points="119.3,708.2 128.4,712.4 142.5,601 133.4,700.1" fill="#89d4e7" fill-opacity="0.92"/><polygon points="128.4,712.4 137.5,716.6 151.6,602.9 142.5,601" fill="#8ad5e8" fill-opacity="0.92"/><polygon points="137.5,716.6 146.6,717.3 160.7,556.2 151.6,602.9" fill="#8bd6e8" fill-opacity="0.92"/><polygon points="146.6,717.3 155.7,716.9 169.8,706.5 160.7,556.2" fill="#8bd6e8" fill-opacity="0.92"/><polygon points="155.7,716.9 164.8,718.9 178.9,706.5 169.8,706.5" fill="#8bd6e8" fill-opacity="0.92"/><polygon points="164.8,718.9 173.9,720.9 188,701.5 178.9,706.5" fill="#8bd6e8" fill-opacity="0.92"/><polygon points="173.9,720.9 183,720.7 197.1,705.5 188,701.5" fill="#8cd7e8" fill-opacity="0.92"/><polygon points="183,720.7 192.1,718.8 206.2,706.1 197.1,705.5" fill="#8bd6e8" fill-opacity="0.92"/><polygon points="192.1,718.8 206.7,722.8 220.8,705.1 206.2,706.1" fill="#8bd6e8" fill-opacity="0.92"/><polygon points="206.7,722.8 219.4,722.9 233.5,707.3 220.8,705.1" fill="#8cd7e8" fill-opacity="0.92"/><polygon points="219.4,722.9 228.5,721.6 242.6,696.9 233.5,707.3" fill="#8bd6e8" fill-opacity="0.92"/><polygon points="228.5,721.6 237.6,726.1 251.7,714.1 242.6,696.9" fill="#8bd6e8" fill-opacity="0.92"/><polygon points="237.6,726.1 246.7,724.4 260.8,713.9 251.7,714.1" fill="#8cd7e8" fill-opacity="0.92"/><polygon points="246.7,724.4 255.8,723.7 269.9,708.2 260.8,713.9" fill="#8bd6e8" fill-opacity="0.92"/><polygon points="255.8,723.7 264.9,727.4 279,710.8 269.9,708.2" fill="#8bd6e8" fill-opacity="0.92"/><polygon points="264.9,727.4 283.1,727.5 297.2,710.5 279,710.8" fill="#8cd7e8" fill-opacity="0.92"/><polygon points="283.1,727.5 301.3,727.4 315.4,709.3 297.2,710.5" fill="#8bd6e8" fill-opacity="0.92"/><polygon points="301.3,727.4 319.5,732.1 333.7,713.5 315.4,709.3" fill="#8bd6e8" fill-opacity="0.92"/><polygon points="319.5,732.1 337.7,731.9 351.9,721.4 333.7,713.5" fill="#8cd7e8" fill-opacity="0.92"/><polygon points="337.7,731.9 355.9,732.4 370.1,720.2 351.9,721.4" fill="#8bd6e8" fill-opacity="0.92"/><polygon points="355.9,732.4 374.1,734.2 388.3,718.7 370.1,720.2" fill="#8bd6e8" fill-opacity="0.92"/><polygon points="374.1,734.2 392.3,736.4 406.5,723.8 388.3,718.7" fill="#8bd6e8" fill-opacity="0.92"/><polygon points="392.3,736.4 410.5,738.9 424.7,717.7 406.5,723.8" fill="#8bd6e8" fill-opacity="0.92"/><polygon points="410.5,738.9 428.7,739.2 442.9,719.4 424.7,717.7" fill="#8cd7e8" fill-opacity="0.92"/><polygon points="428.7,739.2 446.9,741.1 461.1,714.4 442.9,719.4" fill="#8bd6e8" fill-opacity="0.92"/><polygon points="446.9,741.1 465.1,742.1 479.3,727.1 461.1,714.4" fill="#8bd6e8" fill-opacity="0.92"/><polygon points="465.1,742.1 483.3,744 497.5,724.7 479.3,727.1" fill="#8bd6e8" fill-opacity="0.92"/><polygon points="483.3,744 501.5,745.2 515.7,733.1 497.5,724.7" fill="#8bd6e8" fill-opacity="0.92"/></g>
<line x1="55.6" y1="712.4" x2="55.6" y2="541.1" stroke="#a8a8a8" stroke-width="0.7"/>
<line x1="55.6" y1="712.4" x2="501.5" y2="747.5" stroke="#a8a8a8" stroke-width="0.7"/>
<line x1="501.5" y1="747.5" x2="643.4" y2="632" stroke="#a8a8a8" stroke-width="0.7"/>
<line x1="137.5" y1="718.8" x2="130.1" y2="724.8" stroke="#4a4a4a" stroke-width="0.65"/>
<line x1="228.5" y1="726" x2="221.1" y2="732" stroke="#4a4a4a" stroke-width="0.65"/>
<line x1="319.5" y1="733.2" x2="312.1" y2="739.2" stroke="#4a4a4a" stroke-width="0.65"/>
<line x1="410.5" y1="740.3" x2="403.1" y2="746.3" stroke="#4a4a4a" stroke-width="0.65"/>
<line x1="501.5" y1="747.5" x2="494.1" y2="753.5" stroke="#4a4a4a" stroke-width="0.65"/>
<line x1="501.5" y1="747.5" x2="512" y2="748.3" stroke="#4a4a4a" stroke-width="0.65"/>
<line x1="515.7" y1="736" x2="526.2" y2="736.8" stroke="#4a4a4a" stroke-width="0.65"/>
<line x1="529.9" y1="724.4" x2="540.3" y2="725.2" stroke="#4a4a4a" stroke-width="0.65"/>
<line x1="544.1" y1="712.9" x2="554.5" y2="713.7" stroke="#4a4a4a" stroke-width="0.65"/>
<line x1="558.3" y1="701.3" x2="568.7" y2="702.1" stroke="#4a4a4a" stroke-width="0.65"/>
<line x1="572.5" y1="689.8" x2="582.9" y2="690.6" stroke="#4a4a4a" stroke-width="0.65"/>
<line x1="586.6" y1="678.2" x2="597.1" y2="679" stroke="#4a4a4a" stroke-width="0.65"/>
<line x1="600.8" y1="666.7" x2="611.3" y2="667.5" stroke="#4a4a4a" stroke-width="0.65"/>
<line x1="615" y1="655.1" x2="625.5" y2="655.9" stroke="#4a4a4a" stroke-width="0.65"/>
<line x1="629.2" y1="643.6" x2="639.7" y2="644.4" stroke="#4a4a4a" stroke-width="0.65"/>
<line x1="643.4" y1="632" x2="653.9" y2="632.8" stroke="#4a4a4a" stroke-width="0.65"/>
<line x1="55.6" y1="712.4" x2="44.1" y2="711.5" stroke="#4a4a4a" stroke-width="0.65"/>
<line x1="55.6" y1="683.9" x2="44.1" y2="682.9" stroke="#4a4a4a" stroke-width="0.65"/>
<line x1="55.6" y1="655.3" x2="44.1" y2="654.4" stroke="#4a4a4a" stroke-width="0.65"/>
<line x1="55.6" y1="626.8" x2="44.1" y2="625.8" stroke="#4a4a4a" stroke-width="0.65"/>
<line x1="55.6" y1="598.2" x2="44.1" y2="597.3" stroke="#4a4a4a" stroke-width="0.65"/>
<line x1="55.6" y1="569.6" x2="44.1" y2="568.7" stroke="#4a4a4a" stroke-width="0.65"/>
<line x1="55.6" y1="541.1" x2="44.1" y2="540.2" stroke="#4a4a4a" stroke-width="0.65"/>
<text x="110.5" y="322.6" font-size="13.4" text-anchor="end">5</text>
<text x="203.6" y="330.4" font-size="13.4" text-anchor="end">10</text>
<text x="296.7" y="338.2" font-size="13.4" text-anchor="end">15</text>
<text x="389.8" y="346" font-size="13.4" text-anchor="end">20</text>
<text x="482.9" y="353.8" font-size="13.4" text-anchor="end">25</text>
<text x="509.4" y="346.3" font-size="13.4" text-anchor="start">49.5</text>
<text x="524.1" y="334.5" font-size="13.4" text-anchor="start">49.6</text>
<text x="538.8" y="322.6" font-size="13.4" text-anchor="start">49.7</text>
<text x="553.5" y="310.8" font-size="13.4" text-anchor="start">49.8</text>
<text x="568.2" y="299" font-size="13.4" text-anchor="start">49.9</text>
<text x="582.9" y="287.1" font-size="13.4" text-anchor="start">50.0</text>
<text x="597.6" y="275.3" font-size="13.4" text-anchor="start">50.1</text>
<text x="612.3" y="263.4" font-size="13.4" text-anchor="start">50.2</text>
<text x="627" y="251.6" font-size="13.4" text-anchor="start">50.3</text>
<text x="641.7" y="239.8" font-size="13.4" text-anchor="start">50.4</text>
<text x="656.4" y="227.9" font-size="13.4" text-anchor="start">50.5</text>
<text x="22.7" y="297.8" font-size="13.4" text-anchor="end">0</text>
<text x="22.7" y="268.4" font-size="13.4" text-anchor="end">1</text>
<text x="22.7" y="239" font-size="13.4" text-anchor="end">2</text>
<text x="22.7" y="209.7" font-size="13.4" text-anchor="end">3</text>
<text x="22.7" y="180.3" font-size="13.4" text-anchor="end">4</text>
<text x="22.7" y="150.9" font-size="13.4" text-anchor="end">5</text>
<text x="22.7" y="121.5" font-size="13.4" text-anchor="end">6</text>
<text x="127" y="740.6" font-size="13.4" text-anchor="end">5</text>
<text x="218" y="747.8" font-size="13.4" text-anchor="end">10</text>
<text x="309" y="755" font-size="13.4" text-anchor="end">15</text>
<text x="400" y="762.1" font-size="13.4" text-anchor="end">20</text>
<text x="491" y="769.3" font-size="13.4" text-anchor="end">25</text>
<text x="517.5" y="761.8" font-size="13.4" text-anchor="start">49.5</text>
<text x="531.7" y="750.3" font-size="13.4" text-anchor="start">49.6</text>
<text x="545.9" y="738.7" font-size="13.4" text-anchor="start">49.7</text>
<text x="560.1" y="727.2" font-size="13.4" text-anchor="start">49.8</text>
<text x="574.3" y="715.6" font-size="13.4" text-anchor="start">49.9</text>
<text x="588.5" y="704.1" font-size="13.4" text-anchor="start">50.0</text>
<text x="602.6" y="692.5" font-size="13.4" text-anchor="start">50.1</text>
<text x="616.8" y="681" font-size="13.4" text-anchor="start">50.2</text>
<text x="631" y="669.4" font-size="13.4" text-anchor="start">50.3</text>
<text x="645.2" y="657.9" font-size="13.4" text-anchor="start">50.4</text>
<text x="659.4" y="646.3" font-size="13.4" text-anchor="start">50.5</text>
<text x="41.1" y="716.4" font-size="13.4" text-anchor="end">0</text>
<text x="41.1" y="687.9" font-size="13.4" text-anchor="end">0.05</text>
<text x="41.1" y="659.3" font-size="13.4" text-anchor="end">0.1</text>
<text x="41.1" y="630.8" font-size="13.4" text-anchor="end">0.15</text>
<text x="41.1" y="602.2" font-size="13.4" text-anchor="end">0.2</text>
<text x="41.1" y="573.6" font-size="13.4" text-anchor="end">0.25</text>
<text x="41.1" y="545.1" font-size="13.4" text-anchor="end">0.3</text>
<text x="3.2" y="99.3" font-size="16">×</text><text x="13.3" y="99.3" font-size="13.6">10<tspan dy="-6.5" font-size="11">-6</tspan></text>
<text x="10.5" y="206.5" font-size="14.5" text-anchor="middle" transform="rotate(-90 10.5 206.5)">Relative error(%)</text>
<text x="233" y="348.5" font-size="14.5" text-anchor="middle" transform="rotate(4.8 233 348.5)">Modulation frequency(Hz)</text>
<text x="622.5" y="301.5" font-size="14.5" text-anchor="middle" transform="rotate(-38.3 622.5 301.5)">Fundametal frequency(Hz)</text>
<text x="13.5" y="627.6" font-size="14.5" text-anchor="middle" transform="rotate(-90 13.5 627.6)">Relative error(%)</text>
<text x="254" y="766.3" font-size="14.5" text-anchor="middle" transform="rotate(4.5 254 766.3)">Modulation frequency(Hz)</text>
<text x="624.5" y="719.5" font-size="14.3" text-anchor="middle" transform="rotate(-38.8 624.5 719.5)">Fundametal frequency(Hz)</text>
<g fill="#0a0a0a" stroke="#0a0a0a" stroke-width="0.25"><g transform="translate(58.8 389.2) scale(1.12 1)"><text x="0" y="0" font-size="22.5">(a)</text></g><g transform="translate(102 389.2) scale(1.12 1)"><text x="0" y="0" font-size="22.5" textLength="458.9" lengthAdjust="spacing">Relative errors of sinusoidal modulation flicker</text></g></g>
<g fill="#0a0a0a" stroke="#0a0a0a" stroke-width="0.25"><g transform="translate(50.2 815.3) scale(1.12 1)"><text x="0" y="0" font-size="22.5">(b)</text></g><g transform="translate(92.6 815.3) scale(1.12 1)"><text x="0" y="0" font-size="22.5" textLength="475.7" lengthAdjust="spacing">Relative errors of rectangular modulation flicker</text></g></g>
</svg></body></html>
